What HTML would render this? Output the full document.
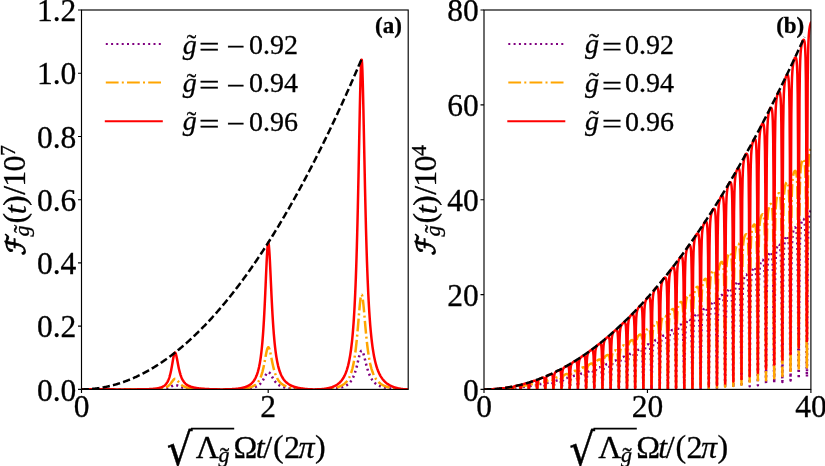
<!DOCTYPE html>
<html><head><meta charset="utf-8"><title>figure</title>
<style>html,body{margin:0;padding:0;background:#fff;width:825px;height:466px;overflow:hidden}svg{display:block}text{stroke:#000;stroke-width:0.3px}</style>
</head><body>
<svg width="825" height="466" viewBox="0 0 825 466">
<rect width="825" height="466" fill="#fff"/>
<defs><clipPath id="ca"><rect x="81.5" y="10.0" width="326.7" height="379.4"/></clipPath><clipPath id="cb"><rect x="484.0" y="10.0" width="326.9" height="379.4"/></clipPath></defs>
<g clip-path="url(#ca)" fill="none" stroke-width="2.5" stroke-linejoin="round">
<polyline stroke="#800080" stroke-dasharray="2 3.3" points="81.50,389.40 81.83,389.40 82.15,389.40 82.48,389.40 82.81,389.40 83.14,389.40 83.46,389.40 83.79,389.40 84.12,389.40 84.44,389.40 84.77,389.40 85.10,389.40 85.42,389.39 85.75,389.39 86.08,389.39 86.41,389.39 86.73,389.39 87.06,389.39 87.39,389.39 87.71,389.39 88.04,389.39 88.37,389.39 88.69,389.39 89.02,389.39 89.35,389.39 89.68,389.39 90.00,389.39 90.33,389.39 90.66,389.39 90.98,389.39 91.31,389.39 91.64,389.39 91.96,389.39 92.29,389.39 92.62,389.39 92.95,389.39 93.27,389.39 93.60,389.39 93.93,389.39 94.25,389.39 94.58,389.39 94.91,389.39 95.24,389.39 95.56,389.39 95.89,389.39 96.22,389.39 96.54,389.39 96.87,389.39 97.20,389.39 97.52,389.39 97.85,389.39 98.18,389.39 98.51,389.39 98.83,389.39 99.16,389.39 99.49,389.39 99.81,389.39 100.14,389.39 100.47,389.39 100.79,389.39 101.12,389.39 101.45,389.39 101.78,389.39 102.10,389.39 102.43,389.39 102.76,389.39 103.08,389.39 103.41,389.39 103.74,389.39 104.06,389.39 104.39,389.39 104.72,389.39 105.05,389.39 105.37,389.39 105.70,389.39 106.03,389.39 106.35,389.39 106.68,389.39 107.01,389.39 107.34,389.39 107.66,389.39 107.99,389.39 108.32,389.39 108.64,389.39 108.97,389.39 109.30,389.39 109.62,389.39 109.95,389.39 110.28,389.39 110.61,389.39 110.93,389.39 111.26,389.39 111.59,389.39 111.91,389.39 112.24,389.39 112.57,389.39 112.89,389.39 113.22,389.39 113.55,389.39 113.88,389.39 114.20,389.39 114.53,389.39 114.86,389.39 115.18,389.39 115.51,389.40 115.84,389.40 116.16,389.40 116.49,389.40 116.82,389.40 117.15,389.40 117.47,389.40 117.80,389.40 118.13,389.40 118.45,389.40 118.78,389.40 119.11,389.40 119.44,389.40 119.76,389.40 120.09,389.40 120.42,389.40 120.74,389.40 121.07,389.40 121.40,389.40 121.72,389.40 122.05,389.40 122.38,389.40 122.71,389.40 123.03,389.40 123.36,389.40 123.69,389.40 124.01,389.40 124.34,389.40 124.67,389.40 124.99,389.40 125.32,389.40 125.65,389.40 125.98,389.40 126.30,389.40 126.63,389.40 126.96,389.40 127.28,389.40 127.61,389.40 127.94,389.40 128.26,389.40 128.59,389.40 128.92,389.40 129.25,389.40 129.57,389.40 129.90,389.40 130.23,389.40 130.55,389.40 130.88,389.40 131.21,389.40 131.54,389.40 131.86,389.40 132.19,389.40 132.52,389.40 132.84,389.40 133.17,389.40 133.50,389.40 133.82,389.40 134.15,389.40 134.48,389.40 134.81,389.40 135.13,389.40 135.46,389.40 135.79,389.40 136.11,389.40 136.44,389.39 136.77,389.39 137.09,389.39 137.42,389.39 137.75,389.39 138.08,389.39 138.40,389.39 138.73,389.39 139.06,389.39 139.38,389.39 139.71,389.39 140.04,389.39 140.36,389.39 140.69,389.39 141.02,389.38 141.35,389.38 141.67,389.38 142.00,389.38 142.33,389.38 142.65,389.38 142.98,389.38 143.31,389.38 143.64,389.37 143.96,389.37 144.29,389.37 144.62,389.37 144.94,389.37 145.27,389.37 145.60,389.36 145.92,389.36 146.25,389.36 146.58,389.36 146.91,389.35 147.23,389.35 147.56,389.35 147.89,389.35 148.21,389.34 148.54,389.34 148.87,389.34 149.19,389.33 149.52,389.33 149.85,389.33 150.18,389.32 150.50,389.32 150.83,389.31 151.16,389.31 151.48,389.30 151.81,389.30 152.14,389.29 152.46,389.29 152.79,389.28 153.12,389.28 153.45,389.27 153.77,389.26 154.10,389.25 154.43,389.25 154.75,389.24 155.08,389.23 155.41,389.22 155.74,389.21 156.06,389.20 156.39,389.19 156.72,389.18 157.04,389.17 157.37,389.16 157.70,389.14 158.02,389.13 158.35,389.12 158.68,389.10 159.01,389.08 159.33,389.07 159.66,389.05 159.99,389.03 160.31,389.01 160.64,388.98 160.97,388.96 161.29,388.94 161.62,388.91 161.95,388.88 162.28,388.85 162.60,388.82 162.93,388.78 163.26,388.75 163.58,388.71 163.91,388.67 164.24,388.62 164.56,388.57 164.89,388.52 165.22,388.47 165.55,388.41 165.87,388.34 166.20,388.28 166.53,388.20 166.85,388.13 167.18,388.04 167.51,387.95 167.84,387.86 168.16,387.76 168.49,387.65 168.82,387.53 169.14,387.41 169.47,387.28 169.80,387.14 170.12,387.00 170.45,386.85 170.78,386.70 171.11,386.54 171.43,386.37 171.76,386.21 172.09,386.05 172.41,385.89 172.74,385.73 173.07,385.59 173.39,385.46 173.72,385.34 174.05,385.25 174.38,385.17 174.70,385.12 175.03,385.09 175.36,385.08 175.68,385.11 176.01,385.15 176.34,385.22 176.66,385.30 176.99,385.40 177.32,385.52 177.65,385.65 177.97,385.78 178.30,385.92 178.63,386.06 178.95,386.20 179.28,386.34 179.61,386.48 179.94,386.62 180.26,386.75 180.59,386.88 180.92,387.00 181.24,387.12 181.57,387.23 181.90,387.33 182.22,387.43 182.55,387.53 182.88,387.62 183.21,387.70 183.53,387.78 183.86,387.86 184.19,387.93 184.51,388.00 184.84,388.06 185.17,388.12 185.49,388.18 185.82,388.23 186.15,388.28 186.48,388.33 186.80,388.38 187.13,388.42 187.46,388.46 187.78,388.50 188.11,388.54 188.44,388.57 188.76,388.61 189.09,388.64 189.42,388.67 189.75,388.70 190.07,388.72 190.40,388.75 190.73,388.77 191.05,388.80 191.38,388.82 191.71,388.84 192.04,388.86 192.36,388.88 192.69,388.90 193.02,388.92 193.34,388.94 193.67,388.96 194.00,388.97 194.32,388.99 194.65,389.00 194.98,389.02 195.31,389.03 195.63,389.04 195.96,389.06 196.29,389.07 196.61,389.08 196.94,389.09 197.27,389.10 197.59,389.11 197.92,389.12 198.25,389.13 198.58,389.14 198.90,389.15 199.23,389.16 199.56,389.17 199.88,389.18 200.21,389.19 200.54,389.19 200.86,389.20 201.19,389.21 201.52,389.22 201.85,389.22 202.17,389.23 202.50,389.24 202.83,389.24 203.15,389.25 203.48,389.26 203.81,389.26 204.14,389.27 204.46,389.27 204.79,389.28 205.12,389.28 205.44,389.29 205.77,389.29 206.10,389.30 206.42,389.30 206.75,389.31 207.08,389.31 207.41,389.31 207.73,389.32 208.06,389.32 208.39,389.33 208.71,389.33 209.04,389.33 209.37,389.34 209.69,389.34 210.02,389.34 210.35,389.35 210.68,389.35 211.00,389.35 211.33,389.36 211.66,389.36 211.98,389.36 212.31,389.36 212.64,389.37 212.96,389.37 213.29,389.37 213.62,389.37 213.95,389.38 214.27,389.38 214.60,389.38 214.93,389.38 215.25,389.38 215.58,389.38 215.91,389.39 216.24,389.39 216.56,389.39 216.89,389.39 217.22,389.39 217.54,389.39 217.87,389.39 218.20,389.40 218.52,389.40 218.85,389.40 219.18,389.40 219.51,389.40 219.83,389.40 220.16,389.40 220.49,389.40 220.81,389.40 221.14,389.40 221.47,389.40 221.79,389.40 222.12,389.40 222.45,389.40 222.78,389.40 223.10,389.40 223.43,389.40 223.76,389.40 224.08,389.40 224.41,389.40 224.74,389.39 225.06,389.39 225.39,389.39 225.72,389.39 226.05,389.39 226.37,389.39 226.70,389.39 227.03,389.38 227.35,389.38 227.68,389.38 228.01,389.38 228.34,389.38 228.66,389.37 228.99,389.37 229.32,389.37 229.64,389.36 229.97,389.36 230.30,389.36 230.62,389.35 230.95,389.35 231.28,389.35 231.61,389.34 231.93,389.34 232.26,389.33 232.59,389.33 232.91,389.32 233.24,389.32 233.57,389.31 233.89,389.31 234.22,389.30 234.55,389.29 234.88,389.29 235.20,389.28 235.53,389.27 235.86,389.27 236.18,389.26 236.51,389.25 236.84,389.24 237.16,389.23 237.49,389.22 237.82,389.22 238.15,389.21 238.47,389.19 238.80,389.18 239.13,389.17 239.45,389.16 239.78,389.15 240.11,389.14 240.44,389.12 240.76,389.11 241.09,389.09 241.42,389.08 241.74,389.06 242.07,389.05 242.40,389.03 242.72,389.01 243.05,388.99 243.38,388.97 243.71,388.95 244.03,388.93 244.36,388.91 244.69,388.89 245.01,388.86 245.34,388.84 245.67,388.81 245.99,388.78 246.32,388.75 246.65,388.72 246.98,388.69 247.30,388.66 247.63,388.62 247.96,388.58 248.28,388.55 248.61,388.50 248.94,388.46 249.26,388.42 249.59,388.37 249.92,388.32 250.25,388.27 250.57,388.21 250.90,388.16 251.23,388.10 251.55,388.03 251.88,387.96 252.21,387.89 252.54,387.82 252.86,387.74 253.19,387.65 253.52,387.56 253.84,387.47 254.17,387.37 254.50,387.26 254.82,387.15 255.15,387.03 255.48,386.91 255.81,386.77 256.13,386.63 256.46,386.48 256.79,386.31 257.11,386.14 257.44,385.96 257.77,385.76 258.09,385.55 258.42,385.33 258.75,385.09 259.08,384.83 259.40,384.56 259.73,384.27 260.06,383.96 260.38,383.63 260.71,383.27 261.04,382.89 261.36,382.49 261.69,382.06 262.02,381.61 262.35,381.13 262.67,380.63 263.00,380.09 263.33,379.53 263.65,378.95 263.98,378.35 264.31,377.73 264.64,377.11 264.96,376.47 265.29,375.85 265.62,375.23 265.94,374.64 266.27,374.09 266.60,373.58 266.92,373.14 267.25,372.77 267.58,372.49 267.91,372.29 268.23,372.20 268.56,372.20 268.89,372.30 269.21,372.50 269.54,372.78 269.87,373.15 270.19,373.57 270.52,374.06 270.85,374.58 271.18,375.14 271.50,375.72 271.83,376.30 272.16,376.89 272.48,377.48 272.81,378.05 273.14,378.61 273.46,379.15 273.79,379.67 274.12,380.17 274.45,380.64 274.77,381.10 275.10,381.52 275.43,381.93 275.75,382.31 276.08,382.68 276.41,383.02 276.74,383.34 277.06,383.64 277.39,383.93 277.72,384.19 278.04,384.45 278.37,384.69 278.70,384.91 279.02,385.12 279.35,385.32 279.68,385.51 280.01,385.69 280.33,385.86 280.66,386.02 280.99,386.17 281.31,386.31 281.64,386.44 281.97,386.57 282.29,386.69 282.62,386.81 282.95,386.91 283.28,387.02 283.60,387.12 283.93,387.21 284.26,387.30 284.58,387.39 284.91,387.47 285.24,387.54 285.56,387.62 285.89,387.69 286.22,387.76 286.55,387.82 286.87,387.88 287.20,387.94 287.53,388.00 287.85,388.05 288.18,388.10 288.51,388.15 288.84,388.20 289.16,388.25 289.49,388.29 289.82,388.33 290.14,388.37 290.47,388.41 290.80,388.45 291.12,388.49 291.45,388.52 291.78,388.56 292.11,388.59 292.43,388.62 292.76,388.65 293.09,388.68 293.41,388.71 293.74,388.73 294.07,388.76 294.39,388.79 294.72,388.81 295.05,388.83 295.38,388.86 295.70,388.88 296.03,388.90 296.36,388.92 296.68,388.94 297.01,388.96 297.34,388.98 297.66,389.00 297.99,389.01 298.32,389.03 298.65,389.05 298.97,389.06 299.30,389.08 299.63,389.09 299.95,389.11 300.28,389.12 300.61,389.14 300.94,389.15 301.26,389.16 301.59,389.17 301.92,389.19 302.24,389.20 302.57,389.21 302.90,389.22 303.22,389.23 303.55,389.24 303.88,389.25 304.21,389.26 304.53,389.27 304.86,389.28 305.19,389.28 305.51,389.29 305.84,389.30 306.17,389.31 306.49,389.31 306.82,389.32 307.15,389.33 307.48,389.33 307.80,389.34 308.13,389.34 308.46,389.35 308.78,389.35 309.11,389.36 309.44,389.36 309.76,389.37 310.09,389.37 310.42,389.38 310.75,389.38 311.07,389.38 311.40,389.39 311.73,389.39 312.05,389.39 312.38,389.39 312.71,389.39 313.04,389.40 313.36,389.40 313.69,389.40 314.02,389.40 314.34,389.40 314.67,389.40 315.00,389.40 315.32,389.40 315.65,389.40 315.98,389.40 316.31,389.40 316.63,389.40 316.96,389.39 317.29,389.39 317.61,389.39 317.94,389.39 318.27,389.38 318.59,389.38 318.92,389.38 319.25,389.37 319.58,389.37 319.90,389.37 320.23,389.36 320.56,389.36 320.88,389.35 321.21,389.34 321.54,389.34 321.86,389.33 322.19,389.32 322.52,389.32 322.85,389.31 323.17,389.30 323.50,389.29 323.83,389.28 324.15,389.27 324.48,389.26 324.81,389.25 325.14,389.24 325.46,389.23 325.79,389.22 326.12,389.21 326.44,389.19 326.77,389.18 327.10,389.17 327.42,389.15 327.75,389.13 328.08,389.12 328.41,389.10 328.73,389.08 329.06,389.07 329.39,389.05 329.71,389.03 330.04,389.01 330.37,388.98 330.69,388.96 331.02,388.94 331.35,388.91 331.68,388.89 332.00,388.86 332.33,388.84 332.66,388.81 332.98,388.78 333.31,388.75 333.64,388.71 333.96,388.68 334.29,388.65 334.62,388.61 334.95,388.57 335.27,388.53 335.60,388.49 335.93,388.45 336.25,388.41 336.58,388.36 336.91,388.31 337.24,388.26 337.56,388.21 337.89,388.15 338.22,388.10 338.54,388.04 338.87,387.97 339.20,387.91 339.52,387.84 339.85,387.77 340.18,387.69 340.51,387.62 340.83,387.53 341.16,387.45 341.49,387.36 341.81,387.27 342.14,387.17 342.47,387.06 342.79,386.96 343.12,386.84 343.45,386.72 343.78,386.60 344.10,386.47 344.43,386.33 344.76,386.18 345.08,386.03 345.41,385.86 345.74,385.69 346.06,385.51 346.39,385.32 346.72,385.12 347.05,384.91 347.37,384.68 347.70,384.44 348.03,384.19 348.35,383.92 348.68,383.64 349.01,383.34 349.34,383.02 349.66,382.67 349.99,382.31 350.32,381.93 350.64,381.52 350.97,381.08 351.30,380.61 351.62,380.12 351.95,379.59 352.28,379.02 352.61,378.42 352.93,377.77 353.26,377.09 353.59,376.36 353.91,375.57 354.24,374.74 354.57,373.86 354.89,372.92 355.22,371.92 355.55,370.86 355.88,369.75 356.20,368.58 356.53,367.35 356.86,366.07 357.18,364.74 357.51,363.38 357.84,361.98 358.16,360.58 358.49,359.18 358.82,357.80 359.15,356.47 359.47,355.22 359.80,354.06 360.13,353.04 360.45,352.18 360.78,351.49 361.11,351.01 361.44,350.75 361.76,350.70 362.09,350.89 362.42,351.28 362.74,351.88 363.07,352.66 363.40,353.60 363.72,354.67 364.05,355.85 364.38,357.10 364.71,358.40 365.03,359.73 365.36,361.07 365.69,362.41 366.01,363.72 366.34,365.00 366.67,366.24 366.99,367.44 367.32,368.58 367.65,369.67 367.98,370.71 368.30,371.69 368.63,372.63 368.96,373.51 369.28,374.33 369.61,375.12 369.94,375.85 370.26,376.55 370.59,377.20 370.92,377.81 371.25,378.39 371.57,378.93 371.90,379.44 372.23,379.93 372.55,380.38 372.88,380.81 373.21,381.21 373.54,381.59 373.86,381.95 374.19,382.29 374.52,382.61 374.84,382.92 375.17,383.20 375.50,383.47 375.82,383.73 376.15,383.98 376.48,384.21 376.81,384.43 377.13,384.64 377.46,384.84 377.79,385.03 378.11,385.21 378.44,385.38 378.77,385.55 379.09,385.70 379.42,385.85 379.75,385.99 380.08,386.13 380.40,386.26 380.73,386.39 381.06,386.50 381.38,386.62 381.71,386.73 382.04,386.83 382.36,386.93 382.69,387.03 383.02,387.12 383.35,387.21 383.67,387.30 384.00,387.38 384.33,387.46 384.65,387.54 384.98,387.61 385.31,387.68 385.64,387.75 385.96,387.81 386.29,387.88 386.62,387.94 386.94,388.00 387.27,388.05 387.60,388.11 387.92,388.16 388.25,388.21 388.58,388.26 388.91,388.31 389.23,388.35 389.56,388.40 389.89,388.44 390.21,388.48 390.54,388.52 390.87,388.56 391.19,388.60 391.52,388.63 391.85,388.67 392.18,388.70 392.50,388.73 392.83,388.76 393.16,388.79 393.48,388.82 393.81,388.85 394.14,388.88 394.46,388.91 394.79,388.93 395.12,388.96 395.45,388.98 395.77,389.00 396.10,389.02 396.43,389.05 396.75,389.07 397.08,389.09 397.41,389.11 397.74,389.12 398.06,389.14 398.39,389.16 398.72,389.18 399.04,389.19 399.37,389.21 399.70,389.22 400.02,389.23 400.35,389.25 400.68,389.26 401.01,389.27 401.33,389.28 401.66,389.29 401.99,389.31 402.31,389.31 402.64,389.32 402.97,389.33 403.29,389.34 403.62,389.35 403.95,389.36 404.28,389.36 404.60,389.37 404.93,389.37 405.26,389.38 405.58,389.38 405.91,389.39 406.24,389.39 406.56,389.39 406.89,389.40 407.22,389.40 407.55,389.40 407.87,389.40 408.20,389.40"/>
<polyline stroke="#ffa500" stroke-dasharray="12.8 3.2 2 3.2" points="81.50,389.40 81.83,389.40 82.15,389.40 82.48,389.40 82.81,389.40 83.14,389.40 83.46,389.40 83.79,389.39 84.12,389.39 84.44,389.39 84.77,389.39 85.10,389.39 85.42,389.39 85.75,389.39 86.08,389.39 86.41,389.38 86.73,389.38 87.06,389.38 87.39,389.38 87.71,389.38 88.04,389.38 88.37,389.38 88.69,389.38 89.02,389.38 89.35,389.38 89.68,389.38 90.00,389.38 90.33,389.38 90.66,389.38 90.98,389.38 91.31,389.38 91.64,389.38 91.96,389.38 92.29,389.38 92.62,389.38 92.95,389.37 93.27,389.37 93.60,389.37 93.93,389.37 94.25,389.37 94.58,389.37 94.91,389.37 95.24,389.37 95.56,389.37 95.89,389.37 96.22,389.37 96.54,389.38 96.87,389.38 97.20,389.38 97.52,389.38 97.85,389.38 98.18,389.38 98.51,389.38 98.83,389.38 99.16,389.38 99.49,389.38 99.81,389.38 100.14,389.38 100.47,389.38 100.79,389.38 101.12,389.38 101.45,389.38 101.78,389.38 102.10,389.38 102.43,389.38 102.76,389.38 103.08,389.38 103.41,389.38 103.74,389.38 104.06,389.38 104.39,389.38 104.72,389.38 105.05,389.38 105.37,389.38 105.70,389.38 106.03,389.38 106.35,389.38 106.68,389.38 107.01,389.38 107.34,389.38 107.66,389.38 107.99,389.38 108.32,389.38 108.64,389.38 108.97,389.38 109.30,389.38 109.62,389.38 109.95,389.39 110.28,389.39 110.61,389.39 110.93,389.39 111.26,389.39 111.59,389.39 111.91,389.39 112.24,389.39 112.57,389.39 112.89,389.39 113.22,389.39 113.55,389.39 113.88,389.39 114.20,389.39 114.53,389.39 114.86,389.39 115.18,389.39 115.51,389.39 115.84,389.39 116.16,389.39 116.49,389.39 116.82,389.39 117.15,389.39 117.47,389.39 117.80,389.39 118.13,389.39 118.45,389.39 118.78,389.39 119.11,389.39 119.44,389.40 119.76,389.40 120.09,389.40 120.42,389.40 120.74,389.40 121.07,389.40 121.40,389.40 121.72,389.40 122.05,389.40 122.38,389.40 122.71,389.40 123.03,389.40 123.36,389.40 123.69,389.40 124.01,389.40 124.34,389.40 124.67,389.40 124.99,389.40 125.32,389.40 125.65,389.40 125.98,389.40 126.30,389.40 126.63,389.40 126.96,389.40 127.28,389.40 127.61,389.40 127.94,389.40 128.26,389.40 128.59,389.40 128.92,389.40 129.25,389.40 129.57,389.40 129.90,389.40 130.23,389.40 130.55,389.40 130.88,389.40 131.21,389.40 131.54,389.40 131.86,389.40 132.19,389.40 132.52,389.40 132.84,389.40 133.17,389.40 133.50,389.40 133.82,389.40 134.15,389.40 134.48,389.40 134.81,389.39 135.13,389.39 135.46,389.39 135.79,389.39 136.11,389.39 136.44,389.39 136.77,389.39 137.09,389.39 137.42,389.39 137.75,389.39 138.08,389.39 138.40,389.38 138.73,389.38 139.06,389.38 139.38,389.38 139.71,389.38 140.04,389.38 140.36,389.38 140.69,389.37 141.02,389.37 141.35,389.37 141.67,389.37 142.00,389.37 142.33,389.36 142.65,389.36 142.98,389.36 143.31,389.36 143.64,389.35 143.96,389.35 144.29,389.35 144.62,389.34 144.94,389.34 145.27,389.34 145.60,389.33 145.92,389.33 146.25,389.33 146.58,389.32 146.91,389.32 147.23,389.31 147.56,389.31 147.89,389.30 148.21,389.30 148.54,389.29 148.87,389.28 149.19,389.28 149.52,389.27 149.85,389.26 150.18,389.26 150.50,389.25 150.83,389.24 151.16,389.23 151.48,389.22 151.81,389.21 152.14,389.20 152.46,389.19 152.79,389.18 153.12,389.17 153.45,389.16 153.77,389.15 154.10,389.13 154.43,389.12 154.75,389.10 155.08,389.09 155.41,389.07 155.74,389.05 156.06,389.03 156.39,389.01 156.72,388.99 157.04,388.97 157.37,388.95 157.70,388.92 158.02,388.90 158.35,388.87 158.68,388.84 159.01,388.81 159.33,388.77 159.66,388.74 159.99,388.70 160.31,388.66 160.64,388.62 160.97,388.57 161.29,388.52 161.62,388.47 161.95,388.42 162.28,388.36 162.60,388.29 162.93,388.22 163.26,388.15 163.58,388.07 163.91,387.99 164.24,387.90 164.56,387.80 164.89,387.69 165.22,387.58 165.55,387.45 165.87,387.32 166.20,387.18 166.53,387.02 166.85,386.85 167.18,386.67 167.51,386.47 167.84,386.26 168.16,386.03 168.49,385.78 168.82,385.51 169.14,385.22 169.47,384.91 169.80,384.57 170.12,384.21 170.45,383.83 170.78,383.43 171.11,383.00 171.43,382.56 171.76,382.11 172.09,381.65 172.41,381.19 172.74,380.75 173.07,380.32 173.39,379.93 173.72,379.58 174.05,379.28 174.38,379.06 174.70,378.91 175.03,378.84 175.36,378.86 175.68,378.95 176.01,379.12 176.34,379.36 176.66,379.65 176.99,379.98 177.32,380.35 177.65,380.74 177.97,381.14 178.30,381.55 178.63,381.95 178.95,382.35 179.28,382.73 179.61,383.10 179.94,383.45 180.26,383.79 180.59,384.10 180.92,384.40 181.24,384.68 181.57,384.94 181.90,385.19 182.22,385.42 182.55,385.64 182.88,385.84 183.21,386.02 183.53,386.20 183.86,386.36 184.19,386.52 184.51,386.66 184.84,386.80 185.17,386.92 185.49,387.04 185.82,387.15 186.15,387.26 186.48,387.35 186.80,387.45 187.13,387.53 187.46,387.62 187.78,387.69 188.11,387.77 188.44,387.84 188.76,387.90 189.09,387.96 189.42,388.02 189.75,388.08 190.07,388.13 190.40,388.18 190.73,388.23 191.05,388.28 191.38,388.32 191.71,388.36 192.04,388.40 192.36,388.44 192.69,388.48 193.02,388.51 193.34,388.54 193.67,388.58 194.00,388.61 194.32,388.64 194.65,388.66 194.98,388.69 195.31,388.72 195.63,388.74 195.96,388.77 196.29,388.79 196.61,388.81 196.94,388.83 197.27,388.85 197.59,388.87 197.92,388.89 198.25,388.91 198.58,388.93 198.90,388.95 199.23,388.96 199.56,388.98 199.88,388.99 200.21,389.01 200.54,389.02 200.86,389.04 201.19,389.05 201.52,389.06 201.85,389.08 202.17,389.09 202.50,389.10 202.83,389.11 203.15,389.12 203.48,389.14 203.81,389.15 204.14,389.16 204.46,389.17 204.79,389.18 205.12,389.19 205.44,389.20 205.77,389.20 206.10,389.21 206.42,389.22 206.75,389.23 207.08,389.24 207.41,389.24 207.73,389.25 208.06,389.26 208.39,389.27 208.71,389.27 209.04,389.28 209.37,389.29 209.69,389.29 210.02,389.30 210.35,389.30 210.68,389.31 211.00,389.31 211.33,389.32 211.66,389.33 211.98,389.33 212.31,389.33 212.64,389.34 212.96,389.34 213.29,389.35 213.62,389.35 213.95,389.36 214.27,389.36 214.60,389.36 214.93,389.37 215.25,389.37 215.58,389.37 215.91,389.38 216.24,389.38 216.56,389.38 216.89,389.38 217.22,389.39 217.54,389.39 217.87,389.39 218.20,389.39 218.52,389.39 218.85,389.39 219.18,389.40 219.51,389.40 219.83,389.40 220.16,389.40 220.49,389.40 220.81,389.40 221.14,389.40 221.47,389.40 221.79,389.40 222.12,389.40 222.45,389.40 222.78,389.40 223.10,389.40 223.43,389.40 223.76,389.40 224.08,389.39 224.41,389.39 224.74,389.39 225.06,389.39 225.39,389.39 225.72,389.38 226.05,389.38 226.37,389.38 226.70,389.38 227.03,389.37 227.35,389.37 227.68,389.36 228.01,389.36 228.34,389.36 228.66,389.35 228.99,389.35 229.32,389.34 229.64,389.34 229.97,389.33 230.30,389.32 230.62,389.32 230.95,389.31 231.28,389.30 231.61,389.30 231.93,389.29 232.26,389.28 232.59,389.27 232.91,389.26 233.24,389.25 233.57,389.24 233.89,389.23 234.22,389.22 234.55,389.21 234.88,389.20 235.20,389.18 235.53,389.17 235.86,389.16 236.18,389.14 236.51,389.13 236.84,389.11 237.16,389.10 237.49,389.08 237.82,389.06 238.15,389.04 238.47,389.03 238.80,389.01 239.13,388.98 239.45,388.96 239.78,388.94 240.11,388.92 240.44,388.89 240.76,388.87 241.09,388.84 241.42,388.81 241.74,388.78 242.07,388.75 242.40,388.72 242.72,388.69 243.05,388.65 243.38,388.62 243.71,388.58 244.03,388.54 244.36,388.50 244.69,388.46 245.01,388.41 245.34,388.36 245.67,388.31 245.99,388.26 246.32,388.21 246.65,388.15 246.98,388.09 247.30,388.03 247.63,387.96 247.96,387.89 248.28,387.82 248.61,387.74 248.94,387.66 249.26,387.58 249.59,387.49 249.92,387.40 250.25,387.30 250.57,387.20 250.90,387.09 251.23,386.97 251.55,386.85 251.88,386.72 252.21,386.58 252.54,386.44 252.86,386.29 253.19,386.12 253.52,385.95 253.84,385.77 254.17,385.57 254.50,385.37 254.82,385.15 255.15,384.91 255.48,384.66 255.81,384.39 256.13,384.11 256.46,383.80 256.79,383.48 257.11,383.13 257.44,382.75 257.77,382.35 258.09,381.92 258.42,381.45 258.75,380.95 259.08,380.42 259.40,379.84 259.73,379.21 260.06,378.54 260.38,377.81 260.71,377.03 261.04,376.18 261.36,375.27 261.69,374.28 262.02,373.22 262.35,372.08 262.67,370.86 263.00,369.55 263.33,368.15 263.65,366.67 263.98,365.11 264.31,363.47 264.64,361.76 264.96,360.01 265.29,358.23 265.62,356.45 265.94,354.71 266.27,353.05 266.60,351.51 266.92,350.15 267.25,349.00 267.58,348.12 267.91,347.54 268.23,347.27 268.56,347.34 268.89,347.72 269.21,348.41 269.54,349.37 269.87,350.56 270.19,351.93 270.52,353.44 270.85,355.05 271.18,356.71 271.50,358.38 271.83,360.05 272.16,361.68 272.48,363.26 272.81,364.78 273.14,366.23 273.46,367.60 273.79,368.90 274.12,370.11 274.45,371.25 274.77,372.32 275.10,373.32 275.43,374.25 275.75,375.12 276.08,375.93 276.41,376.68 276.74,377.38 277.06,378.04 277.39,378.65 277.72,379.22 278.04,379.75 278.37,380.25 278.70,380.72 279.02,381.15 279.35,381.56 279.68,381.94 280.01,382.30 280.33,382.64 280.66,382.96 280.99,383.26 281.31,383.54 281.64,383.81 281.97,384.06 282.29,384.30 282.62,384.52 282.95,384.73 283.28,384.93 283.60,385.13 283.93,385.31 284.26,385.48 284.58,385.64 284.91,385.80 285.24,385.94 285.56,386.09 285.89,386.22 286.22,386.35 286.55,386.47 286.87,386.59 287.20,386.70 287.53,386.80 287.85,386.91 288.18,387.00 288.51,387.10 288.84,387.19 289.16,387.27 289.49,387.36 289.82,387.44 290.14,387.51 290.47,387.58 290.80,387.65 291.12,387.72 291.45,387.79 291.78,387.85 292.11,387.91 292.43,387.97 292.76,388.02 293.09,388.08 293.41,388.13 293.74,388.18 294.07,388.23 294.39,388.28 294.72,388.32 295.05,388.36 295.38,388.41 295.70,388.45 296.03,388.49 296.36,388.52 296.68,388.56 297.01,388.60 297.34,388.63 297.66,388.66 297.99,388.70 298.32,388.73 298.65,388.76 298.97,388.79 299.30,388.82 299.63,388.84 299.95,388.87 300.28,388.89 300.61,388.92 300.94,388.94 301.26,388.97 301.59,388.99 301.92,389.01 302.24,389.03 302.57,389.05 302.90,389.07 303.22,389.09 303.55,389.11 303.88,389.12 304.21,389.14 304.53,389.16 304.86,389.17 305.19,389.19 305.51,389.20 305.84,389.22 306.17,389.23 306.49,389.24 306.82,389.25 307.15,389.27 307.48,389.28 307.80,389.29 308.13,389.30 308.46,389.31 308.78,389.32 309.11,389.33 309.44,389.33 309.76,389.34 310.09,389.35 310.42,389.36 310.75,389.36 311.07,389.37 311.40,389.37 311.73,389.38 312.05,389.38 312.38,389.39 312.71,389.39 313.04,389.39 313.36,389.39 313.69,389.40 314.02,389.40 314.34,389.40 314.67,389.40 315.00,389.40 315.32,389.40 315.65,389.40 315.98,389.40 316.31,389.40 316.63,389.39 316.96,389.39 317.29,389.39 317.61,389.38 317.94,389.38 318.27,389.37 318.59,389.37 318.92,389.36 319.25,389.35 319.58,389.35 319.90,389.34 320.23,389.33 320.56,389.32 320.88,389.31 321.21,389.30 321.54,389.29 321.86,389.28 322.19,389.26 322.52,389.25 322.85,389.24 323.17,389.22 323.50,389.20 323.83,389.19 324.15,389.17 324.48,389.15 324.81,389.13 325.14,389.11 325.46,389.09 325.79,389.07 326.12,389.05 326.44,389.02 326.77,389.00 327.10,388.97 327.42,388.94 327.75,388.92 328.08,388.89 328.41,388.86 328.73,388.82 329.06,388.79 329.39,388.76 329.71,388.72 330.04,388.68 330.37,388.64 330.69,388.60 331.02,388.56 331.35,388.51 331.68,388.47 332.00,388.42 332.33,388.37 332.66,388.32 332.98,388.26 333.31,388.21 333.64,388.15 333.96,388.09 334.29,388.02 334.62,387.95 334.95,387.89 335.27,387.81 335.60,387.74 335.93,387.66 336.25,387.58 336.58,387.49 336.91,387.40 337.24,387.31 337.56,387.21 337.89,387.11 338.22,387.00 338.54,386.89 338.87,386.78 339.20,386.66 339.52,386.53 339.85,386.40 340.18,386.26 340.51,386.11 340.83,385.96 341.16,385.80 341.49,385.63 341.81,385.46 342.14,385.27 342.47,385.08 342.79,384.87 343.12,384.66 343.45,384.43 343.78,384.20 344.10,383.95 344.43,383.68 344.76,383.40 345.08,383.11 345.41,382.80 345.74,382.47 346.06,382.12 346.39,381.76 346.72,381.37 347.05,380.95 347.37,380.51 347.70,380.05 348.03,379.55 348.35,379.03 348.68,378.46 349.01,377.87 349.34,377.23 349.66,376.55 349.99,375.82 350.32,375.04 350.64,374.20 350.97,373.31 351.30,372.35 351.62,371.32 351.95,370.21 352.28,369.03 352.61,367.74 352.93,366.37 353.26,364.88 353.59,363.28 353.91,361.56 354.24,359.70 354.57,357.69 354.89,355.54 355.22,353.21 355.55,350.72 355.88,348.04 356.20,345.17 356.53,342.11 356.86,338.86 357.18,335.42 357.51,331.81 357.84,328.05 358.16,324.17 358.49,320.22 358.82,316.25 359.15,312.35 359.47,308.58 359.80,305.07 360.13,301.90 360.45,299.19 360.78,297.05 361.11,295.54 361.44,294.74 361.76,294.68 362.09,295.35 362.42,296.72 362.74,298.73 363.07,301.29 363.40,304.30 363.72,307.65 364.05,311.24 364.38,314.98 364.71,318.79 365.03,322.59 365.36,326.32 365.69,329.95 366.01,333.45 366.34,336.78 366.67,339.95 366.99,342.93 367.32,345.74 367.65,348.37 367.98,350.84 368.30,353.14 368.63,355.28 368.96,357.28 369.28,359.14 369.61,360.87 369.94,362.48 370.26,363.99 370.59,365.39 370.92,366.69 371.25,367.91 371.57,369.05 371.90,370.11 372.23,371.11 372.55,372.04 372.88,372.91 373.21,373.73 373.54,374.49 373.86,375.21 374.19,375.89 374.52,376.53 374.84,377.13 375.17,377.69 375.50,378.23 375.82,378.73 376.15,379.21 376.48,379.66 376.81,380.09 377.13,380.49 377.46,380.88 377.79,381.24 378.11,381.59 378.44,381.92 378.77,382.23 379.09,382.53 379.42,382.81 379.75,383.08 380.08,383.34 380.40,383.59 380.73,383.82 381.06,384.05 381.38,384.26 381.71,384.47 382.04,384.67 382.36,384.85 382.69,385.03 383.02,385.21 383.35,385.37 383.67,385.53 384.00,385.69 384.33,385.83 384.65,385.98 384.98,386.11 385.31,386.24 385.64,386.37 385.96,386.49 386.29,386.61 386.62,386.72 386.94,386.83 387.27,386.93 387.60,387.03 387.92,387.13 388.25,387.22 388.58,387.31 388.91,387.40 389.23,387.48 389.56,387.57 389.89,387.64 390.21,387.72 390.54,387.79 390.87,387.86 391.19,387.93 391.52,388.00 391.85,388.06 392.18,388.12 392.50,388.18 392.83,388.24 393.16,388.29 393.48,388.35 393.81,388.40 394.14,388.45 394.46,388.50 394.79,388.54 395.12,388.59 395.45,388.63 395.77,388.68 396.10,388.72 396.43,388.75 396.75,388.79 397.08,388.83 397.41,388.86 397.74,388.90 398.06,388.93 398.39,388.96 398.72,388.99 399.04,389.02 399.37,389.05 399.70,389.07 400.02,389.10 400.35,389.12 400.68,389.15 401.01,389.17 401.33,389.19 401.66,389.21 401.99,389.23 402.31,389.25 402.64,389.26 402.97,389.28 403.29,389.29 403.62,389.31 403.95,389.32 404.28,389.33 404.60,389.34 404.93,389.35 405.26,389.36 405.58,389.37 405.91,389.38 406.24,389.38 406.56,389.39 406.89,389.39 407.22,389.40 407.55,389.40 407.87,389.40 408.20,389.40"/>
<polyline stroke="#ff0000" stroke-linecap="square" points="81.50,389.40 81.83,389.40 82.15,389.40 82.48,389.40 82.81,389.39 83.14,389.39 83.46,389.39 83.79,389.38 84.12,389.38 84.44,389.38 84.77,389.37 85.10,389.37 85.42,389.37 85.75,389.36 86.08,389.36 86.41,389.36 86.73,389.35 87.06,389.35 87.39,389.35 87.71,389.35 88.04,389.35 88.37,389.35 88.69,389.35 89.02,389.34 89.35,389.34 89.68,389.34 90.00,389.34 90.33,389.34 90.66,389.34 90.98,389.34 91.31,389.34 91.64,389.34 91.96,389.34 92.29,389.34 92.62,389.34 92.95,389.34 93.27,389.34 93.60,389.34 93.93,389.34 94.25,389.34 94.58,389.34 94.91,389.34 95.24,389.34 95.56,389.34 95.89,389.34 96.22,389.34 96.54,389.34 96.87,389.34 97.20,389.34 97.52,389.34 97.85,389.34 98.18,389.34 98.51,389.34 98.83,389.34 99.16,389.34 99.49,389.34 99.81,389.34 100.14,389.35 100.47,389.35 100.79,389.35 101.12,389.35 101.45,389.35 101.78,389.35 102.10,389.35 102.43,389.35 102.76,389.35 103.08,389.35 103.41,389.35 103.74,389.35 104.06,389.35 104.39,389.35 104.72,389.35 105.05,389.35 105.37,389.36 105.70,389.36 106.03,389.36 106.35,389.36 106.68,389.36 107.01,389.36 107.34,389.36 107.66,389.36 107.99,389.36 108.32,389.36 108.64,389.36 108.97,389.36 109.30,389.36 109.62,389.37 109.95,389.37 110.28,389.37 110.61,389.37 110.93,389.37 111.26,389.37 111.59,389.37 111.91,389.37 112.24,389.37 112.57,389.37 112.89,389.37 113.22,389.37 113.55,389.37 113.88,389.38 114.20,389.38 114.53,389.38 114.86,389.38 115.18,389.38 115.51,389.38 115.84,389.38 116.16,389.38 116.49,389.38 116.82,389.38 117.15,389.38 117.47,389.38 117.80,389.39 118.13,389.39 118.45,389.39 118.78,389.39 119.11,389.39 119.44,389.39 119.76,389.39 120.09,389.39 120.42,389.39 120.74,389.39 121.07,389.39 121.40,389.39 121.72,389.39 122.05,389.39 122.38,389.39 122.71,389.39 123.03,389.40 123.36,389.40 123.69,389.40 124.01,389.40 124.34,389.40 124.67,389.40 124.99,389.40 125.32,389.40 125.65,389.40 125.98,389.40 126.30,389.40 126.63,389.40 126.96,389.40 127.28,389.40 127.61,389.40 127.94,389.40 128.26,389.40 128.59,389.40 128.92,389.40 129.25,389.40 129.57,389.40 129.90,389.40 130.23,389.40 130.55,389.40 130.88,389.40 131.21,389.40 131.54,389.40 131.86,389.40 132.19,389.40 132.52,389.40 132.84,389.39 133.17,389.39 133.50,389.39 133.82,389.39 134.15,389.39 134.48,389.39 134.81,389.39 135.13,389.39 135.46,389.38 135.79,389.38 136.11,389.38 136.44,389.38 136.77,389.38 137.09,389.37 137.42,389.37 137.75,389.37 138.08,389.37 138.40,389.36 138.73,389.36 139.06,389.36 139.38,389.35 139.71,389.35 140.04,389.35 140.36,389.34 140.69,389.34 141.02,389.34 141.35,389.33 141.67,389.33 142.00,389.32 142.33,389.32 142.65,389.31 142.98,389.30 143.31,389.30 143.64,389.29 143.96,389.28 144.29,389.28 144.62,389.27 144.94,389.26 145.27,389.25 145.60,389.25 145.92,389.24 146.25,389.23 146.58,389.22 146.91,389.21 147.23,389.20 147.56,389.18 147.89,389.17 148.21,389.16 148.54,389.15 148.87,389.13 149.19,389.12 149.52,389.10 149.85,389.08 150.18,389.07 150.50,389.05 150.83,389.03 151.16,389.01 151.48,388.99 151.81,388.97 152.14,388.94 152.46,388.92 152.79,388.89 153.12,388.87 153.45,388.84 153.77,388.81 154.10,388.77 154.43,388.74 154.75,388.71 155.08,388.67 155.41,388.63 155.74,388.59 156.06,388.54 156.39,388.49 156.72,388.45 157.04,388.39 157.37,388.34 157.70,388.28 158.02,388.21 158.35,388.15 158.68,388.08 159.01,388.00 159.33,387.92 159.66,387.83 159.99,387.74 160.31,387.64 160.64,387.54 160.97,387.42 161.29,387.30 161.62,387.17 161.95,387.04 162.28,386.89 162.60,386.73 162.93,386.55 163.26,386.37 163.58,386.17 163.91,385.95 164.24,385.71 164.56,385.46 164.89,385.18 165.22,384.88 165.55,384.55 165.87,384.19 166.20,383.80 166.53,383.37 166.85,382.90 167.18,382.39 167.51,381.83 167.84,381.21 168.16,380.53 168.49,379.78 168.82,378.95 169.14,378.05 169.47,377.05 169.80,375.95 170.12,374.75 170.45,373.43 170.78,372.00 171.11,370.45 171.43,368.78 171.76,367.01 172.09,365.14 172.41,363.22 172.74,361.28 173.07,359.37 173.39,357.56 173.72,355.93 174.05,354.56 174.38,353.52 174.70,352.87 175.03,352.64 175.36,352.85 175.68,353.47 176.01,354.44 176.34,355.72 176.66,357.22 176.99,358.87 177.32,360.59 177.65,362.35 177.97,364.09 178.30,365.77 178.63,367.38 178.95,368.90 179.28,370.32 179.61,371.65 179.94,372.87 180.26,374.00 180.59,375.04 180.92,376.00 181.24,376.88 181.57,377.69 181.90,378.43 182.22,379.12 182.55,379.74 182.88,380.32 183.21,380.85 183.53,381.35 183.86,381.80 184.19,382.22 184.51,382.61 184.84,382.97 185.17,383.31 185.49,383.62 185.82,383.91 186.15,384.18 186.48,384.44 186.80,384.68 187.13,384.90 187.46,385.11 187.78,385.30 188.11,385.49 188.44,385.66 188.76,385.83 189.09,385.98 189.42,386.13 189.75,386.26 190.07,386.40 190.40,386.52 190.73,386.64 191.05,386.75 191.38,386.85 191.71,386.96 192.04,387.05 192.36,387.14 192.69,387.23 193.02,387.31 193.34,387.39 193.67,387.47 194.00,387.54 194.32,387.61 194.65,387.68 194.98,387.74 195.31,387.81 195.63,387.86 195.96,387.92 196.29,387.98 196.61,388.03 196.94,388.08 197.27,388.13 197.59,388.17 197.92,388.22 198.25,388.26 198.58,388.30 198.90,388.35 199.23,388.38 199.56,388.42 199.88,388.46 200.21,388.49 200.54,388.53 200.86,388.56 201.19,388.59 201.52,388.62 201.85,388.65 202.17,388.68 202.50,388.71 202.83,388.74 203.15,388.76 203.48,388.79 203.81,388.81 204.14,388.84 204.46,388.86 204.79,388.88 205.12,388.91 205.44,388.93 205.77,388.95 206.10,388.97 206.42,388.99 206.75,389.01 207.08,389.02 207.41,389.04 207.73,389.06 208.06,389.08 208.39,389.09 208.71,389.11 209.04,389.12 209.37,389.14 209.69,389.15 210.02,389.17 210.35,389.18 210.68,389.19 211.00,389.20 211.33,389.22 211.66,389.23 211.98,389.24 212.31,389.25 212.64,389.26 212.96,389.27 213.29,389.28 213.62,389.29 213.95,389.30 214.27,389.31 214.60,389.31 214.93,389.32 215.25,389.33 215.58,389.34 215.91,389.34 216.24,389.35 216.56,389.36 216.89,389.36 217.22,389.37 217.54,389.37 217.87,389.38 218.20,389.38 218.52,389.38 218.85,389.39 219.18,389.39 219.51,389.39 219.83,389.39 220.16,389.40 220.49,389.40 220.81,389.40 221.14,389.40 221.47,389.40 221.79,389.40 222.12,389.40 222.45,389.40 222.78,389.40 223.10,389.40 223.43,389.39 223.76,389.39 224.08,389.39 224.41,389.38 224.74,389.38 225.06,389.37 225.39,389.37 225.72,389.36 226.05,389.36 226.37,389.35 226.70,389.34 227.03,389.34 227.35,389.33 227.68,389.32 228.01,389.31 228.34,389.30 228.66,389.29 228.99,389.28 229.32,389.26 229.64,389.25 229.97,389.24 230.30,389.22 230.62,389.21 230.95,389.19 231.28,389.18 231.61,389.16 231.93,389.14 232.26,389.12 232.59,389.10 232.91,389.08 233.24,389.06 233.57,389.03 233.89,389.01 234.22,388.99 234.55,388.96 234.88,388.93 235.20,388.90 235.53,388.87 235.86,388.84 236.18,388.81 236.51,388.77 236.84,388.74 237.16,388.70 237.49,388.66 237.82,388.62 238.15,388.58 238.47,388.53 238.80,388.49 239.13,388.44 239.45,388.39 239.78,388.34 240.11,388.28 240.44,388.23 240.76,388.17 241.09,388.10 241.42,388.04 241.74,387.97 242.07,387.90 242.40,387.83 242.72,387.75 243.05,387.67 243.38,387.58 243.71,387.50 244.03,387.40 244.36,387.31 244.69,387.21 245.01,387.10 245.34,386.99 245.67,386.87 245.99,386.75 246.32,386.62 246.65,386.49 246.98,386.35 247.30,386.20 247.63,386.04 247.96,385.88 248.28,385.71 248.61,385.53 248.94,385.34 249.26,385.14 249.59,384.93 249.92,384.70 250.25,384.47 250.57,384.22 250.90,383.96 251.23,383.68 251.55,383.38 251.88,383.07 252.21,382.74 252.54,382.39 252.86,382.02 253.19,381.62 253.52,381.20 253.84,380.75 254.17,380.27 254.50,379.76 254.82,379.21 255.15,378.63 255.48,378.00 255.81,377.33 256.13,376.61 256.46,375.84 256.79,375.00 257.11,374.10 257.44,373.13 257.77,372.09 258.09,370.95 258.42,369.72 258.75,368.39 259.08,366.94 259.40,365.37 259.73,363.65 260.06,361.78 260.38,359.73 260.71,357.49 261.04,355.04 261.36,352.35 261.69,349.40 262.02,346.16 262.35,342.61 262.67,338.71 263.00,334.44 263.33,329.77 263.65,324.66 263.98,319.11 264.31,313.11 264.64,306.66 264.96,299.79 265.29,292.57 265.62,285.10 265.94,277.52 266.27,270.04 266.60,262.91 266.92,256.41 267.25,250.86 267.58,246.55 267.91,243.75 268.23,242.62 268.56,243.22 268.89,245.50 269.21,249.28 269.54,254.32 269.87,260.33 270.19,267.00 270.52,274.06 270.85,281.25 271.18,288.40 271.50,295.34 271.83,301.98 272.16,308.25 272.48,314.12 272.81,319.58 273.14,324.62 273.46,329.27 273.79,333.54 274.12,337.46 274.45,341.05 274.77,344.33 275.10,347.35 275.43,350.11 275.75,352.64 276.08,354.97 276.41,357.11 276.74,359.08 277.06,360.89 277.39,362.56 277.72,364.11 278.04,365.54 278.37,366.86 278.70,368.09 279.02,369.24 279.35,370.30 279.68,371.29 280.01,372.21 280.33,373.08 280.66,373.88 280.99,374.64 281.31,375.35 281.64,376.02 281.97,376.64 282.29,377.23 282.62,377.79 282.95,378.31 283.28,378.81 283.60,379.27 283.93,379.72 284.26,380.13 284.58,380.53 284.91,380.91 285.24,381.26 285.56,381.60 285.89,381.93 286.22,382.23 286.55,382.53 286.87,382.81 287.20,383.07 287.53,383.33 287.85,383.57 288.18,383.80 288.51,384.03 288.84,384.24 289.16,384.44 289.49,384.64 289.82,384.82 290.14,385.00 290.47,385.18 290.80,385.34 291.12,385.50 291.45,385.65 291.78,385.80 292.11,385.94 292.43,386.08 292.76,386.21 293.09,386.34 293.41,386.46 293.74,386.58 294.07,386.69 294.39,386.80 294.72,386.90 295.05,387.00 295.38,387.10 295.70,387.20 296.03,387.29 296.36,387.38 296.68,387.46 297.01,387.54 297.34,387.62 297.66,387.70 297.99,387.78 298.32,387.85 298.65,387.92 298.97,387.99 299.30,388.05 299.63,388.11 299.95,388.17 300.28,388.23 300.61,388.29 300.94,388.35 301.26,388.40 301.59,388.45 301.92,388.50 302.24,388.55 302.57,388.59 302.90,388.64 303.22,388.68 303.55,388.72 303.88,388.76 304.21,388.80 304.53,388.84 304.86,388.88 305.19,388.91 305.51,388.94 305.84,388.98 306.17,389.01 306.49,389.04 306.82,389.07 307.15,389.09 307.48,389.12 307.80,389.14 308.13,389.17 308.46,389.19 308.78,389.21 309.11,389.23 309.44,389.25 309.76,389.27 310.09,389.28 310.42,389.30 310.75,389.31 311.07,389.33 311.40,389.34 311.73,389.35 312.05,389.36 312.38,389.37 312.71,389.38 313.04,389.38 313.36,389.39 313.69,389.39 314.02,389.40 314.34,389.40 314.67,389.40 315.00,389.40 315.32,389.40 315.65,389.40 315.98,389.39 316.31,389.39 316.63,389.38 316.96,389.38 317.29,389.37 317.61,389.36 317.94,389.35 318.27,389.34 318.59,389.32 318.92,389.31 319.25,389.29 319.58,389.28 319.90,389.26 320.23,389.24 320.56,389.21 320.88,389.19 321.21,389.17 321.54,389.14 321.86,389.11 322.19,389.08 322.52,389.05 322.85,389.02 323.17,388.99 323.50,388.95 323.83,388.91 324.15,388.87 324.48,388.83 324.81,388.79 325.14,388.74 325.46,388.69 325.79,388.64 326.12,388.59 326.44,388.53 326.77,388.47 327.10,388.41 327.42,388.35 327.75,388.29 328.08,388.22 328.41,388.15 328.73,388.07 329.06,387.99 329.39,387.91 329.71,387.83 330.04,387.74 330.37,387.65 330.69,387.56 331.02,387.46 331.35,387.35 331.68,387.25 332.00,387.13 332.33,387.02 332.66,386.90 332.98,386.77 333.31,386.64 333.64,386.50 333.96,386.36 334.29,386.21 334.62,386.06 334.95,385.89 335.27,385.73 335.60,385.55 335.93,385.37 336.25,385.17 336.58,384.97 336.91,384.77 337.24,384.55 337.56,384.32 337.89,384.08 338.22,383.83 338.54,383.57 338.87,383.30 339.20,383.02 339.52,382.72 339.85,382.41 340.18,382.08 340.51,381.74 340.83,381.37 341.16,381.00 341.49,380.60 341.81,380.18 342.14,379.74 342.47,379.28 342.79,378.80 343.12,378.28 343.45,377.74 343.78,377.18 344.10,376.57 344.43,375.94 344.76,375.27 345.08,374.56 345.41,373.81 345.74,373.01 346.06,372.16 346.39,371.27 346.72,370.31 347.05,369.30 347.37,368.22 347.70,367.07 348.03,365.84 348.35,364.53 348.68,363.12 349.01,361.62 349.34,360.01 349.66,358.28 349.99,356.42 350.32,354.42 350.64,352.27 350.97,349.95 351.30,347.43 351.62,344.72 351.95,341.77 352.28,338.58 352.61,335.11 352.93,331.33 353.26,327.22 353.59,322.73 353.91,317.83 354.24,312.47 354.57,306.60 354.89,300.16 355.22,293.11 355.55,285.38 355.88,276.91 356.20,267.62 356.53,257.46 356.86,246.37 357.18,234.30 357.51,221.22 357.84,207.14 358.16,192.12 358.49,176.25 358.82,159.74 359.15,142.88 359.47,126.06 359.80,109.81 360.13,94.74 360.45,81.55 360.78,70.91 361.11,63.46 361.44,59.65 361.76,59.72 362.09,63.63 362.42,71.10 362.74,81.63 363.07,94.59 363.40,109.29 363.72,125.07 364.05,141.35 364.38,157.64 364.71,173.57 365.03,188.88 365.36,203.39 365.69,217.01 366.01,229.68 366.34,241.41 366.67,252.21 366.99,262.14 367.32,271.25 367.65,279.59 367.98,287.22 368.30,294.21 368.63,300.61 368.96,306.47 369.28,311.85 369.61,316.78 369.94,321.32 370.26,325.49 370.59,329.34 370.92,332.88 371.25,336.16 371.57,339.20 371.90,342.01 372.23,344.61 372.55,347.04 372.88,349.29 373.21,351.39 373.54,353.35 373.86,355.18 374.19,356.90 374.52,358.50 374.84,360.01 375.17,361.42 375.50,362.75 375.82,363.99 376.15,365.17 376.48,366.28 376.81,367.33 377.13,368.32 377.46,369.25 377.79,370.14 378.11,370.98 378.44,371.77 378.77,372.53 379.09,373.25 379.42,373.93 379.75,374.58 380.08,375.20 380.40,375.79 380.73,376.35 381.06,376.88 381.38,377.39 381.71,377.88 382.04,378.35 382.36,378.80 382.69,379.23 383.02,379.64 383.35,380.03 383.67,380.40 384.00,380.77 384.33,381.11 384.65,381.44 384.98,381.76 385.31,382.07 385.64,382.37 385.96,382.65 386.29,382.92 386.62,383.19 386.94,383.44 387.27,383.68 387.60,383.92 387.92,384.14 388.25,384.36 388.58,384.57 388.91,384.77 389.23,384.97 389.56,385.16 389.89,385.34 390.21,385.52 390.54,385.69 390.87,385.85 391.19,386.01 391.52,386.16 391.85,386.31 392.18,386.45 392.50,386.59 392.83,386.72 393.16,386.85 393.48,386.97 393.81,387.09 394.14,387.21 394.46,387.32 394.79,387.43 395.12,387.53 395.45,387.63 395.77,387.73 396.10,387.82 396.43,387.91 396.75,388.00 397.08,388.08 397.41,388.16 397.74,388.24 398.06,388.32 398.39,388.39 398.72,388.46 399.04,388.52 399.37,388.59 399.70,388.65 400.02,388.71 400.35,388.76 400.68,388.81 401.01,388.87 401.33,388.91 401.66,388.96 401.99,389.00 402.31,389.04 402.64,389.08 402.97,389.12 403.29,389.15 403.62,389.19 403.95,389.21 404.28,389.24 404.60,389.27 404.93,389.29 405.26,389.31 405.58,389.33 405.91,389.35 406.24,389.36 406.56,389.37 406.89,389.38 407.22,389.39 407.55,389.40 407.87,389.40 408.20,389.40"/>
<polyline stroke="#000" stroke-dasharray="7.4 3.2" points="81.50,389.40 81.97,389.40 82.43,389.40 82.90,389.39 83.37,389.39 83.84,389.38 84.30,389.37 84.77,389.35 85.24,389.34 85.71,389.33 86.17,389.31 86.64,389.29 87.11,389.27 87.58,389.24 88.04,389.22 88.51,389.19 88.98,389.16 89.45,389.13 89.91,389.10 90.38,389.07 90.85,389.03 91.32,388.99 91.78,388.95 92.25,388.91 92.72,388.87 93.19,388.82 93.65,388.78 94.12,388.73 94.59,388.68 95.06,388.63 95.52,388.57 95.99,388.52 96.46,388.46 96.93,388.40 97.39,388.34 97.86,388.27 98.33,388.21 98.80,388.14 99.26,388.07 99.73,388.00 100.20,387.93 100.67,387.85 101.13,387.78 101.60,387.70 102.07,387.62 102.54,387.54 103.00,387.45 103.47,387.37 103.94,387.28 104.41,387.19 104.87,387.10 105.34,387.01 105.81,386.91 106.28,386.82 106.74,386.72 107.21,386.62 107.68,386.51 108.15,386.41 108.61,386.30 109.08,386.20 109.55,386.09 110.02,385.98 110.48,385.86 110.95,385.75 111.42,385.63 111.89,385.51 112.35,385.39 112.82,385.27 113.29,385.15 113.76,385.02 114.22,384.89 114.69,384.76 115.16,384.63 115.63,384.50 116.09,384.36 116.56,384.22 117.03,384.09 117.50,383.94 117.96,383.80 118.43,383.66 118.90,383.51 119.37,383.36 119.83,383.21 120.30,383.06 120.77,382.91 121.24,382.75 121.70,382.60 122.17,382.44 122.64,382.27 123.11,382.11 123.57,381.95 124.04,381.78 124.51,381.61 124.98,381.44 125.44,381.27 125.91,381.10 126.38,380.92 126.85,380.74 127.31,380.56 127.78,380.38 128.25,380.20 128.72,380.01 129.18,379.83 129.65,379.64 130.12,379.45 130.59,379.26 131.05,379.06 131.52,378.87 131.99,378.67 132.46,378.47 132.92,378.27 133.39,378.06 133.86,377.86 134.33,377.65 134.79,377.44 135.26,377.23 135.73,377.02 136.20,376.80 136.66,376.59 137.13,376.37 137.60,376.15 138.07,375.93 138.53,375.71 139.00,375.48 139.47,375.25 139.94,375.02 140.40,374.79 140.87,374.56 141.34,374.33 141.81,374.09 142.27,373.85 142.74,373.61 143.21,373.37 143.68,373.12 144.14,372.88 144.61,372.63 145.08,372.38 145.55,372.13 146.01,371.88 146.48,371.62 146.95,371.37 147.42,371.11 147.88,370.85 148.35,370.59 148.82,370.32 149.29,370.06 149.75,369.79 150.22,369.52 150.69,369.25 151.16,368.97 151.62,368.70 152.09,368.42 152.56,368.14 153.03,367.86 153.49,367.58 153.96,367.29 154.43,367.01 154.90,366.72 155.36,366.43 155.83,366.14 156.30,365.85 156.77,365.55 157.23,365.25 157.70,364.95 158.17,364.65 158.64,364.35 159.10,364.05 159.57,363.74 160.04,363.43 160.51,363.12 160.97,362.81 161.44,362.50 161.91,362.18 162.38,361.86 162.84,361.54 163.31,361.22 163.78,360.90 164.25,360.57 164.71,360.25 165.18,359.92 165.65,359.59 166.12,359.26 166.58,358.92 167.05,358.59 167.52,358.25 167.99,357.91 168.45,357.57 168.92,357.23 169.39,356.88 169.86,356.53 170.32,356.18 170.79,355.83 171.26,355.48 171.73,355.13 172.19,354.77 172.66,354.41 173.13,354.05 173.60,353.69 174.06,353.33 174.53,352.96 175.00,352.60 175.47,352.23 175.93,351.86 176.40,351.48 176.87,351.11 177.34,350.73 177.80,350.35 178.27,349.97 178.74,349.59 179.21,349.21 179.67,348.82 180.14,348.44 180.61,348.05 181.08,347.66 181.54,347.26 182.01,346.87 182.48,346.47 182.95,346.07 183.41,345.67 183.88,345.27 184.35,344.87 184.82,344.46 185.28,344.05 185.75,343.64 186.22,343.23 186.69,342.82 187.15,342.41 187.62,341.99 188.09,341.57 188.56,341.15 189.02,340.73 189.49,340.30 189.96,339.88 190.43,339.45 190.89,339.02 191.36,338.59 191.83,338.15 192.30,337.72 192.76,337.28 193.23,336.84 193.70,336.40 194.17,335.96 194.63,335.52 195.10,335.07 195.57,334.62 196.04,334.17 196.50,333.72 196.97,333.27 197.44,332.81 197.91,332.35 198.37,331.89 198.84,331.43 199.31,330.97 199.78,330.51 200.24,330.04 200.71,329.57 201.18,329.10 201.65,328.63 202.11,328.16 202.58,327.68 203.05,327.20 203.52,326.72 203.98,326.24 204.45,325.76 204.92,325.27 205.39,324.79 205.85,324.30 206.32,323.81 206.79,323.32 207.26,322.82 207.72,322.33 208.19,321.83 208.66,321.33 209.13,320.83 209.59,320.32 210.06,319.82 210.53,319.31 211.00,318.80 211.46,318.29 211.93,317.78 212.40,317.26 212.87,316.75 213.33,316.23 213.80,315.71 214.27,315.19 214.74,314.67 215.20,314.14 215.67,313.61 216.14,313.08 216.61,312.55 217.07,312.02 217.54,311.49 218.01,310.95 218.48,310.41 218.94,309.87 219.41,309.33 219.88,308.79 220.35,308.24 220.81,307.69 221.28,307.14 221.75,306.59 222.22,306.04 222.68,305.48 223.15,304.93 223.62,304.37 224.09,303.81 224.55,303.25 225.02,302.68 225.49,302.12 225.96,301.55 226.42,300.98 226.89,300.41 227.36,299.83 227.83,299.26 228.29,298.68 228.76,298.10 229.23,297.52 229.70,296.94 230.16,296.36 230.63,295.77 231.10,295.18 231.57,294.59 232.03,294.00 232.50,293.41 232.97,292.81 233.44,292.22 233.90,291.62 234.37,291.02 234.84,290.41 235.31,289.81 235.77,289.20 236.24,288.59 236.71,287.98 237.18,287.37 237.64,286.76 238.11,286.14 238.58,285.53 239.05,284.91 239.51,284.29 239.98,283.66 240.45,283.04 240.92,282.41 241.38,281.78 241.85,281.15 242.32,280.52 242.79,279.89 243.25,279.25 243.72,278.61 244.19,277.97 244.66,277.33 245.12,276.69 245.59,276.04 246.06,275.40 246.53,274.75 246.99,274.10 247.46,273.45 247.93,272.79 248.40,272.14 248.86,271.48 249.33,270.82 249.80,270.16 250.27,269.49 250.73,268.83 251.20,268.16 251.67,267.49 252.14,266.82 252.60,266.15 253.07,265.47 253.54,264.80 254.01,264.12 254.47,263.44 254.94,262.76 255.41,262.07 255.88,261.39 256.34,260.70 256.81,260.01 257.28,259.32 257.75,258.63 258.21,257.93 258.68,257.24 259.15,256.54 259.62,255.84 260.08,255.14 260.55,254.43 261.02,253.73 261.48,253.02 261.95,252.31 262.42,251.60 262.89,250.89 263.35,250.17 263.82,249.45 264.29,248.74 264.76,248.02 265.22,247.29 265.69,246.57 266.16,245.84 266.63,245.11 267.09,244.39 267.56,243.65 268.03,242.92 268.50,242.19 268.96,241.45 269.43,240.71 269.90,239.97 270.37,239.23 270.83,238.48 271.30,237.74 271.77,236.99 272.24,236.24 272.70,235.49 273.17,234.73 273.64,233.98 274.11,233.22 274.57,232.46 275.04,231.70 275.51,230.94 275.98,230.17 276.44,229.41 276.91,228.64 277.38,227.87 277.85,227.10 278.31,226.32 278.78,225.55 279.25,224.77 279.72,223.99 280.18,223.21 280.65,222.43 281.12,221.64 281.59,220.85 282.05,220.07 282.52,219.28 282.99,218.48 283.46,217.69 283.92,216.89 284.39,216.10 284.86,215.30 285.33,214.49 285.79,213.69 286.26,212.89 286.73,212.08 287.20,211.27 287.66,210.46 288.13,209.65 288.60,208.83 289.07,208.02 289.53,207.20 290.00,206.38 290.47,205.56 290.94,204.73 291.40,203.91 291.87,203.08 292.34,202.25 292.81,201.42 293.27,200.59 293.74,199.75 294.21,198.92 294.68,198.08 295.14,197.24 295.61,196.40 296.08,195.55 296.55,194.71 297.01,193.86 297.48,193.01 297.95,192.16 298.42,191.31 298.88,190.45 299.35,189.60 299.82,188.74 300.29,187.88 300.75,187.02 301.22,186.15 301.69,185.29 302.16,184.42 302.62,183.55 303.09,182.68 303.56,181.80 304.03,180.93 304.49,180.05 304.96,179.17 305.43,178.29 305.90,177.41 306.36,176.53 306.83,175.64 307.30,174.75 307.77,173.86 308.23,172.97 308.70,172.08 309.17,171.18 309.64,170.29 310.10,169.39 310.57,168.49 311.04,167.58 311.51,166.68 311.97,165.77 312.44,164.86 312.91,163.95 313.38,163.04 313.84,162.13 314.31,161.21 314.78,160.30 315.25,159.38 315.71,158.46 316.18,157.53 316.65,156.61 317.12,155.68 317.58,154.75 318.05,153.82 318.52,152.89 318.99,151.96 319.45,151.02 319.92,150.08 320.39,149.14 320.86,148.20 321.32,147.26 321.79,146.32 322.26,145.37 322.73,144.42 323.19,143.47 323.66,142.52 324.13,141.56 324.60,140.61 325.06,139.65 325.53,138.69 326.00,137.73 326.47,136.76 326.93,135.80 327.40,134.83 327.87,133.86 328.34,132.89 328.80,131.92 329.27,130.95 329.74,129.97 330.21,128.99 330.67,128.01 331.14,127.03 331.61,126.05 332.08,125.06 332.54,124.07 333.01,123.08 333.48,122.09 333.95,121.10 334.41,120.11 334.88,119.11 335.35,118.11 335.82,117.11 336.28,116.11 336.75,115.11 337.22,114.10 337.69,113.09 338.15,112.08 338.62,111.07 339.09,110.06 339.56,109.04 340.02,108.03 340.49,107.01 340.96,105.99 341.43,104.97 341.89,103.94 342.36,102.92 342.83,101.89 343.30,100.86 343.76,99.83 344.23,98.79 344.70,97.76 345.17,96.72 345.63,95.68 346.10,94.64 346.57,93.60 347.04,92.56 347.50,91.51 347.97,90.46 348.44,89.41 348.91,88.36 349.37,87.31 349.84,86.25 350.31,85.19 350.78,84.14 351.24,83.07 351.71,82.01 352.18,80.95 352.65,79.88 353.11,78.81 353.58,77.74 354.05,76.67 354.52,75.60 354.98,74.52 355.45,73.44 355.92,72.36 356.39,71.28 356.85,70.20 357.32,69.12 357.79,68.03 358.26,66.94 358.72,65.85 359.19,64.76 359.66,63.66 360.13,62.57 360.59,61.47 361.06,60.37 361.53,59.27"/>
</g>
<rect x="81.5" y="10.0" width="326.70" height="379.40" stroke="#000" stroke-width="1.15" fill="none"/>
<path d="M78.0,389.40H81.5M78.0,326.17H81.5M78.0,262.93H81.5M78.0,199.70H81.5M78.0,136.47H81.5M78.0,73.23H81.5M78.0,10.00H81.5M81.50,389.4V392.9M268.19,389.4V392.9" stroke="#000" stroke-width="1.15" fill="none"/>
<text x="76.3" y="400.50" text-anchor="end" font-size="31.5" font-family="Liberation Serif, serif">0.0</text>
<text x="76.3" y="337.27" text-anchor="end" font-size="31.5" font-family="Liberation Serif, serif">0.2</text>
<text x="76.3" y="274.03" text-anchor="end" font-size="31.5" font-family="Liberation Serif, serif">0.4</text>
<text x="76.3" y="210.80" text-anchor="end" font-size="31.5" font-family="Liberation Serif, serif">0.6</text>
<text x="76.3" y="147.57" text-anchor="end" font-size="31.5" font-family="Liberation Serif, serif">0.8</text>
<text x="76.3" y="84.33" text-anchor="end" font-size="31.5" font-family="Liberation Serif, serif">1.0</text>
<text x="76.3" y="21.10" text-anchor="end" font-size="31.5" font-family="Liberation Serif, serif">1.2</text>
<text x="81.50" y="417.00" text-anchor="middle" font-size="31.5" font-family="Liberation Serif, serif">0</text>
<text x="268.19" y="417.00" text-anchor="middle" font-size="31.5" font-family="Liberation Serif, serif">2</text>
<path d="M105.8,43.9H161.8" stroke="#800080" stroke-width="2" stroke-dasharray="2 3.3"/>
<text transform="translate(182.80,53.55)" font-family="Liberation Serif, serif" font-size="28" font-style="italic">g</text>
<text transform="translate(186.65,51.27) scale(1.017,0.857)" font-family="Liberation Serif, serif" font-size="28">˜</text>
<text transform="translate(199.05,55.95) scale(1.3,1.0)" font-family="Liberation Serif, serif" font-size="28">=</text>
<text transform="translate(226.85,56.08) scale(1.169,1.0)" font-family="Liberation Serif, serif" font-size="28">−</text>
<text transform="translate(249.00,53.82)" font-family="Liberation Serif, serif" font-size="28">0.92</text>
<path d="M105.8,82.55H161.8" stroke="#ffa500" stroke-width="2" stroke-dasharray="12.8 3.2 2 3.2"/>
<text transform="translate(182.80,92.00)" font-family="Liberation Serif, serif" font-size="28" font-style="italic">g</text>
<text transform="translate(186.65,89.72) scale(1.017,0.857)" font-family="Liberation Serif, serif" font-size="28">˜</text>
<text transform="translate(199.05,94.40) scale(1.3,1.0)" font-family="Liberation Serif, serif" font-size="28">=</text>
<text transform="translate(226.85,94.53) scale(1.169,1.0)" font-family="Liberation Serif, serif" font-size="28">−</text>
<text transform="translate(249.00,92.27)" font-family="Liberation Serif, serif" font-size="28">0.94</text>
<path d="M105.8,121.2H161.8" stroke="#ff0000" stroke-width="2" stroke-linecap="square"/>
<text transform="translate(182.80,130.45)" font-family="Liberation Serif, serif" font-size="28" font-style="italic">g</text>
<text transform="translate(186.65,128.17) scale(1.017,0.857)" font-family="Liberation Serif, serif" font-size="28">˜</text>
<text transform="translate(199.05,132.85) scale(1.3,1.0)" font-family="Liberation Serif, serif" font-size="28">=</text>
<text transform="translate(226.85,132.98) scale(1.169,1.0)" font-family="Liberation Serif, serif" font-size="28">−</text>
<text transform="translate(249.00,130.72)" font-family="Liberation Serif, serif" font-size="28">0.96</text>
<text transform="translate(375.12,33.05)" font-family="Liberation Serif, serif" font-size="23" font-weight="bold">(a)</text>
<text transform="translate(166.74,464.80) scale(1.262,1.4)" font-family="DejaVu Serif, serif" font-size="32">√</text>
<text transform="translate(195.70,457.90)" font-family="Liberation Serif, serif" font-size="32">Λ</text>
<text transform="translate(218.38,462.30)" font-family="Liberation Serif, serif" font-size="22" font-style="italic">g</text>
<text transform="translate(219.99,463.89) scale(1.244,1.091)" font-family="Liberation Serif, serif" font-size="22">˜</text>
<text transform="translate(233.58,457.72)" font-family="Liberation Serif, serif" font-size="32">Ω</text>
<text transform="translate(255.75,457.62)" font-family="Liberation Serif, serif" font-size="32" font-style="italic">t</text>
<text transform="translate(263.18,458.38)" font-family="Liberation Serif, serif" font-size="32">/</text>
<text transform="translate(272.95,456.88)" font-family="Liberation Serif, serif" font-size="32">(</text>
<text transform="translate(283.92,457.98)" font-family="Liberation Serif, serif" font-size="32">2</text>
<text transform="translate(298.45,458.25)" font-family="Liberation Serif, serif" font-size="32" font-style="italic">π</text>
<text transform="translate(314.88,456.88)" font-family="Liberation Serif, serif" font-size="32">)</text>
<path d="M190.90,428.6H234.20" stroke="#000" stroke-width="1.7"/>
<g transform="translate(24.8,254.4) rotate(-90) translate(-100,-200)">
<text transform="translate(99.78,199.80) scale(0.87,0.995)" font-family="STIX Two Math, DejaVu Sans, sans-serif" font-size="30" style="stroke-width:0.9px">ℱ</text>
<text transform="translate(118.02,204.20)" font-family="Liberation Serif, serif" font-size="22" font-style="italic">g</text>
<text transform="translate(121.73,206.13) scale(1.096,1.127)" font-family="Liberation Serif, serif" font-size="22">˜</text>
<text transform="translate(130.85,199.72)" font-family="Liberation Serif, serif" font-size="32">(</text>
<text transform="translate(140.20,201.48)" font-family="Liberation Serif, serif" font-size="32" font-style="italic">t</text>
<text transform="translate(148.38,199.72)" font-family="Liberation Serif, serif" font-size="32">)</text>
<text transform="translate(159.57,200.58)" font-family="Liberation Serif, serif" font-size="32">/</text>
<text transform="translate(167.62,200.20)" font-family="Liberation Serif, serif" font-size="32">1</text>
<text transform="translate(182.90,200.50)" font-family="Liberation Serif, serif" font-size="32">0</text>
<text transform="translate(198.38,190.08)" font-family="Liberation Serif, serif" font-size="22">7</text>
</g>
<g clip-path="url(#cb)" fill="none" stroke-width="2.5" stroke-linejoin="round">
<polyline stroke="#800080" stroke-dasharray="2 3.3" points="484.00,389.40 484.36,389.40 484.71,389.40 485.07,389.40 485.42,389.40 485.78,389.39 486.13,389.39 486.49,389.39 486.85,389.39 487.20,389.39 487.56,389.39 487.91,389.40 488.27,389.40 488.62,389.38 488.98,389.37 489.34,389.36 489.69,389.35 490.05,389.34 490.40,389.33 490.76,389.32 491.11,389.32 491.47,389.31 491.83,389.30 492.18,389.29 492.54,389.28 492.89,389.27 493.25,389.26 493.60,389.25 493.96,389.24 494.31,389.23 494.67,389.22 495.03,389.22 495.38,389.24 495.74,389.29 496.09,389.38 496.45,389.37 496.80,389.26 497.16,389.18 497.52,389.13 497.87,389.10 498.23,389.08 498.58,389.05 498.94,389.03 499.29,389.01 499.65,388.99 500.01,388.97 500.36,388.95 500.72,388.93 501.07,388.91 501.43,388.89 501.78,388.88 502.14,388.86 502.50,388.85 502.85,388.85 503.21,388.87 503.56,388.92 503.92,389.07 504.27,389.34 504.63,389.31 504.99,389.01 505.34,388.82 505.70,388.71 506.05,388.65 506.41,388.60 506.76,388.55 507.12,388.52 507.48,388.48 507.83,388.45 508.19,388.42 508.54,388.39 508.90,388.36 509.25,388.33 509.61,388.31 509.96,388.29 510.32,388.27 510.68,388.26 511.03,388.27 511.39,388.32 511.74,388.45 512.10,388.76 512.45,389.30 512.81,389.22 513.17,388.64 513.52,388.28 513.88,388.10 514.23,387.98 514.59,387.90 514.94,387.84 515.30,387.78 515.66,387.73 516.01,387.69 516.37,387.65 516.72,387.61 517.08,387.57 517.43,387.53 517.79,387.50 518.15,387.48 518.50,387.46 518.86,387.46 519.21,387.49 519.57,387.58 519.92,387.81 520.28,388.36 520.64,389.25 520.99,389.08 521.35,388.13 521.70,387.57 522.06,387.28 522.41,387.11 522.77,386.99 523.13,386.90 523.48,386.82 523.84,386.76 524.19,386.70 524.55,386.65 524.90,386.60 525.26,386.55 525.61,386.51 525.97,386.47 526.33,386.45 526.68,386.43 527.04,386.45 527.39,386.50 527.75,386.66 528.10,387.02 528.46,387.86 528.82,389.20 529.17,388.88 529.53,387.49 529.88,386.68 530.24,386.26 530.59,386.02 530.95,385.86 531.31,385.74 531.66,385.65 532.02,385.56 532.37,385.49 532.73,385.42 533.08,385.36 533.44,385.31 533.80,385.26 534.15,385.22 534.51,385.20 534.86,385.19 535.22,385.22 535.57,385.31 535.93,385.54 536.29,386.07 536.64,387.28 537.00,389.15 537.35,388.64 537.71,386.70 538.06,385.60 538.42,385.05 538.78,384.73 539.13,384.52 539.49,384.37 539.84,384.25 540.20,384.14 540.55,384.05 540.91,383.97 541.27,383.90 541.62,383.84 541.98,383.79 542.33,383.75 542.69,383.72 543.04,383.73 543.40,383.78 543.75,383.92 544.11,384.24 544.47,384.97 544.82,386.63 545.18,389.11 545.53,388.32 545.89,385.77 546.24,384.34 546.60,383.63 546.96,383.22 547.31,382.96 547.67,382.77 548.02,382.62 548.38,382.50 548.73,382.39 549.09,382.30 549.45,382.22 549.80,382.15 550.16,382.09 550.51,382.05 550.87,382.03 551.22,382.05 551.58,382.13 551.94,382.33 552.29,382.76 552.65,383.73 553.00,385.91 553.36,389.08 553.71,387.94 554.07,384.69 554.43,382.90 554.78,382.01 555.14,381.51 555.49,381.18 555.85,380.96 556.20,380.78 556.56,380.63 556.92,380.51 557.27,380.41 557.63,380.31 557.98,380.24 558.34,380.17 558.69,380.13 559.05,380.12 559.40,380.16 559.76,380.27 560.12,380.53 560.47,381.09 560.83,382.34 561.18,385.12 561.54,389.06 561.89,387.47 562.25,383.45 562.61,381.27 562.96,380.19 563.32,379.58 563.67,379.19 564.03,378.92 564.38,378.71 564.74,378.55 565.10,378.40 565.45,378.29 565.81,378.18 566.16,378.10 566.52,378.03 566.87,377.99 567.23,377.99 567.59,378.05 567.94,378.20 568.30,378.53 568.65,379.25 569.01,380.81 569.36,384.27 569.72,389.04 570.08,386.92 570.43,382.06 570.79,379.45 571.14,378.16 571.50,377.44 571.85,376.98 572.21,376.66 572.57,376.42 572.92,376.23 573.28,376.07 573.63,375.94 573.99,375.83 574.34,375.74 574.70,375.67 575.05,375.63 575.41,375.64 575.77,375.72 576.12,375.92 576.48,376.34 576.83,377.22 577.19,379.14 577.54,383.38 577.90,389.04 578.26,386.28 578.61,380.51 578.97,377.44 579.32,375.92 579.68,375.08 580.03,374.55 580.39,374.19 580.75,373.91 581.10,373.70 581.46,373.52 581.81,373.37 582.17,373.25 582.52,373.15 582.88,373.08 583.24,373.05 583.59,373.07 583.95,373.18 584.30,373.43 584.66,373.95 585.01,375.01 585.37,377.34 585.73,382.44 586.08,389.06 586.44,385.54 586.79,378.79 587.15,375.24 587.50,373.49 587.86,372.51 588.22,371.91 588.57,371.49 588.93,371.18 589.28,370.94 589.64,370.74 589.99,370.58 590.35,370.44 590.71,370.34 591.06,370.27 591.42,370.25 591.77,370.29 592.13,370.42 592.48,370.73 592.84,371.35 593.19,372.63 593.55,375.41 593.91,381.46 594.26,389.08 594.62,384.69 594.97,376.90 595.33,372.84 595.68,370.84 596.04,369.73 596.40,369.04 596.75,368.57 597.11,368.22 597.46,367.95 597.82,367.74 598.17,367.56 598.53,367.42 598.89,367.31 599.24,367.24 599.60,367.22 599.95,367.28 600.31,367.45 600.66,367.82 601.02,368.57 601.38,370.08 601.73,373.36 602.09,380.46 602.44,389.12 602.80,383.73 603.15,374.84 603.51,370.25 603.87,367.99 604.22,366.74 604.58,365.96 604.93,365.43 605.29,365.05 605.64,364.75 606.00,364.51 606.36,364.32 606.71,364.16 607.07,364.05 607.42,363.98 607.78,363.98 608.13,364.06 608.49,364.27 608.84,364.71 609.20,365.58 609.56,367.35 609.91,371.18 610.27,379.43 610.62,389.16 610.98,382.64 611.33,372.60 611.69,367.46 612.05,364.92 612.40,363.53 612.76,362.66 613.11,362.07 613.47,361.64 613.82,361.32 614.18,361.06 614.54,360.85 614.89,360.69 615.25,360.57 615.60,360.51 615.96,360.51 616.31,360.61 616.67,360.87 617.03,361.39 617.38,362.40 617.74,364.46 618.09,368.88 618.45,378.39 618.80,389.21 619.16,381.43 619.52,370.19 619.87,364.47 620.23,361.65 620.58,360.10 620.94,359.14 621.29,358.49 621.65,358.02 622.01,357.66 622.36,357.38 622.72,357.16 623.07,356.99 623.43,356.87 623.78,356.81 624.14,356.82 624.49,356.95 624.85,357.25 625.21,357.86 625.56,359.03 625.92,361.39 626.27,366.48 626.63,377.35 626.98,389.26 627.34,380.09 627.70,367.59 628.05,361.28 628.41,358.17 628.76,356.46 629.12,355.40 629.47,354.69 629.83,354.17 630.19,353.78 630.54,353.48 630.90,353.24 631.25,353.06 631.61,352.94 631.96,352.88 632.32,352.91 632.68,353.07 633.03,353.43 633.39,354.12 633.74,355.47 634.10,358.16 634.45,363.96 634.81,376.30 635.17,389.31 635.52,378.60 635.88,364.81 636.23,357.89 636.59,354.48 636.94,352.60 637.30,351.44 637.66,350.66 638.01,350.10 638.37,349.68 638.72,349.35 639.08,349.10 639.43,348.91 639.79,348.79 640.15,348.74 640.50,348.79 640.86,348.97 641.21,349.38 641.57,350.18 641.92,351.71 642.28,354.77 642.63,361.34 642.99,375.26 643.35,389.35 643.70,376.97 644.06,361.84 644.41,354.30 644.77,350.58 645.12,348.52 645.48,347.26 645.84,346.42 646.19,345.81 646.55,345.35 646.90,345.01 647.26,344.74 647.61,344.54 647.97,344.41 648.33,344.37 648.68,344.44 649.04,344.66 649.39,345.13 649.75,346.04 650.10,347.76 650.46,351.21 650.82,358.62 651.17,374.23 651.53,389.39 651.88,375.19 652.24,358.69 652.59,350.50 652.95,346.46 653.31,344.23 653.66,342.86 654.02,341.95 654.37,341.29 654.73,340.80 655.08,340.43 655.44,340.15 655.80,339.94 656.15,339.81 656.51,339.78 656.86,339.87 657.22,340.13 657.57,340.67 657.93,341.69 658.28,343.62 658.64,347.49 659.00,355.80 659.35,373.23 659.71,389.40 660.06,373.24 660.42,355.34 660.77,346.50 661.13,342.14 661.49,339.72 661.84,338.25 662.20,337.26 662.55,336.55 662.91,336.03 663.26,335.63 663.62,335.33 663.98,335.12 664.33,334.99 664.69,334.97 665.04,335.08 665.40,335.38 665.75,335.99 666.11,337.13 666.47,339.30 666.82,343.62 667.18,352.90 667.53,372.25 667.89,389.39 668.24,371.14 668.60,351.79 668.96,342.29 669.31,337.59 669.67,335.00 670.02,333.41 670.38,332.34 670.73,331.59 671.09,331.03 671.45,330.61 671.80,330.30 672.16,330.07 672.51,329.95 672.87,329.93 673.22,330.07 673.58,330.41 673.93,331.10 674.29,332.37 674.65,334.78 675.00,339.59 675.36,349.91 675.71,371.31 676.07,389.35 676.42,368.86 676.78,348.05 677.14,337.88 677.49,332.84 677.85,330.05 678.20,328.35 678.56,327.21 678.91,326.40 679.27,325.81 679.63,325.36 679.98,325.03 680.34,324.80 680.69,324.68 681.05,324.68 681.40,324.84 681.76,325.23 682.12,325.99 682.47,327.41 682.83,330.08 683.18,335.41 683.54,346.85 683.89,370.41 684.25,389.27 684.61,366.41 684.96,344.11 685.32,333.25 685.67,327.87 686.03,324.89 686.38,323.07 686.74,321.85 687.10,320.99 687.45,320.36 687.81,319.89 688.16,319.55 688.52,319.31 688.87,319.19 689.23,319.20 689.58,319.39 689.94,319.83 690.30,320.68 690.65,322.25 691.01,325.20 691.36,331.08 691.72,343.71 692.07,369.57 692.43,389.14 692.79,363.77 693.14,339.97 693.50,328.42 693.85,322.69 694.21,319.51 694.56,317.56 694.92,316.27 695.28,315.36 695.63,314.69 695.99,314.20 696.34,313.83 696.70,313.59 697.05,313.47 697.41,313.50 697.77,313.72 698.12,314.21 698.48,315.16 698.83,316.89 699.19,320.13 699.54,326.60 699.90,340.50 700.26,368.77 700.61,388.96 700.97,360.96 701.32,335.62 701.68,323.37 702.03,317.29 702.39,313.91 702.75,311.84 703.10,310.47 703.46,309.50 703.81,308.80 704.17,308.28 704.52,307.90 704.88,307.65 705.24,307.54 705.59,307.58 705.95,307.83 706.30,308.38 706.66,309.42 707.01,311.33 707.37,314.88 707.72,321.98 708.08,337.24 708.44,368.05 708.79,388.71 709.15,357.95 709.50,331.07 709.86,318.12 710.21,311.67 710.57,308.09 710.93,305.90 711.28,304.44 711.64,303.42 711.99,302.68 712.35,302.13 712.70,301.74 713.06,301.49 713.42,301.38 713.77,301.44 714.13,301.72 714.48,302.33 714.84,303.48 715.19,305.56 715.55,309.45 715.91,317.21 716.26,333.92 716.62,367.38 716.97,388.39 717.33,354.74 717.68,326.31 718.04,312.65 718.40,305.84 718.75,302.05 719.11,299.73 719.46,298.19 719.82,297.11 720.17,296.33 720.53,295.76 720.89,295.35 721.24,295.10 721.60,294.99 721.95,295.07 722.31,295.39 722.66,296.07 723.02,297.33 723.37,299.60 723.73,303.84 724.09,312.31 724.44,330.55 724.80,366.80 725.15,387.98 725.51,351.34 725.86,321.35 726.22,306.97 726.58,299.79 726.93,295.80 727.29,293.34 727.64,291.72 728.00,290.58 728.35,289.76 728.71,289.17 729.07,288.75 729.42,288.48 729.78,288.39 730.13,288.49 730.49,288.85 730.84,289.59 731.20,290.97 731.56,293.44 731.91,298.05 732.27,307.27 732.62,327.13 732.98,366.29 733.33,387.48 733.69,347.74 734.05,316.17 734.40,301.07 734.76,293.53 735.11,289.32 735.47,286.73 735.82,285.02 736.18,283.83 736.54,282.97 736.89,282.35 737.25,281.91 737.60,281.65 737.96,281.56 738.31,281.68 738.67,282.08 739.02,282.90 739.38,284.39 739.74,287.08 740.09,292.09 740.45,302.10 740.80,323.68 741.16,365.87 741.51,386.87 741.87,343.92 742.23,310.78 742.58,294.96 742.94,287.04 743.29,282.62 743.65,279.90 744.00,278.10 744.36,276.85 744.72,275.95 745.07,275.30 745.43,274.85 745.78,274.59 746.14,274.51 746.49,274.65 746.85,275.10 747.21,275.99 747.56,277.62 747.92,280.53 748.27,285.95 748.63,296.80 748.98,320.21 749.34,365.53 749.70,386.15 750.05,339.90 750.41,305.18 750.76,288.63 751.12,280.34 751.47,275.70 751.83,272.85 752.19,270.96 752.54,269.65 752.90,268.71 753.25,268.04 753.61,267.57 753.96,267.30 754.32,267.23 754.68,267.40 755.03,267.90 755.39,268.87 755.74,270.63 756.10,273.78 756.45,279.64 756.81,291.37 757.16,316.71 757.52,365.29 757.88,385.30 758.23,335.66 758.59,299.36 758.94,282.09 759.30,273.42 759.65,268.56 760.01,265.57 760.37,263.60 760.72,262.22 761.08,261.24 761.43,260.54 761.79,260.07 762.14,259.79 762.50,259.73 762.86,259.93 763.21,260.47 763.57,261.53 763.92,263.43 764.28,266.83 764.63,273.15 764.99,285.82 765.35,313.19 765.70,365.14 766.06,384.31 766.41,331.20 766.77,293.32 767.12,275.33 767.48,266.27 767.84,261.20 768.19,258.07 768.55,256.01 768.90,254.57 769.26,253.55 769.61,252.83 769.97,252.34 770.33,252.06 770.68,252.01 771.04,252.24 771.39,252.84 771.75,253.98 772.10,256.03 772.46,259.69 772.81,266.50 773.17,280.16 773.53,309.67 773.88,365.10 774.24,383.18 774.59,326.52 774.95,287.07 775.30,268.35 775.66,258.91 776.02,253.61 776.37,250.35 776.73,248.19 777.08,246.70 777.44,245.64 777.79,244.88 778.15,244.38 778.51,244.10 778.86,244.07 779.22,244.33 779.57,244.98 779.93,246.22 780.28,248.43 780.64,252.36 781.00,259.67 781.35,274.37 781.71,306.15 782.06,365.15 782.42,381.89 782.77,321.62 783.13,280.60 783.49,261.15 783.84,251.33 784.20,245.81 784.55,242.40 784.91,240.16 785.26,238.60 785.62,237.50 785.98,236.72 786.33,236.20 786.69,235.93 787.04,235.91 787.40,236.20 787.75,236.90 788.11,238.24 788.46,240.61 788.82,244.83 789.18,252.68 789.53,268.48 789.89,302.64 790.24,365.31 790.60,380.43 790.95,316.49 791.31,273.90 791.67,253.74 792.02,243.53 792.38,237.78 792.73,234.23 793.09,231.89 793.44,230.28 793.80,229.13 794.16,228.33 794.51,227.80 794.87,227.52 795.22,227.52 795.58,227.84 795.93,228.61 796.29,230.05 796.65,232.60 797.00,237.11 797.36,245.52 797.71,262.48 798.07,299.14 798.42,365.57 798.78,378.80 799.14,311.13 799.49,266.99 799.85,246.10 800.20,235.51 800.56,229.53 800.91,225.84 801.27,223.41 801.63,221.73 801.98,220.54 802.34,219.71 802.69,219.17 803.05,218.90 803.40,218.91 803.76,219.27 804.12,220.10 804.47,221.65 804.83,224.37 805.18,229.20 805.54,238.20 805.89,256.37 806.25,295.67 806.60,365.93 806.96,376.97 807.32,305.54 807.67,259.85 808.03,238.24 808.38,227.26 808.74,221.06 809.09,217.23 809.45,214.70 809.81,212.95 810.16,211.72 810.52,210.87 810.87,210.32"/>
<polyline stroke="#ffa500" stroke-dasharray="12.8 3.2 2 3.2" points="484.00,389.40 484.36,389.40 484.71,389.40 485.07,389.40 485.42,389.40 485.78,389.39 486.13,389.39 486.49,389.39 486.85,389.38 487.20,389.38 487.56,389.38 487.91,389.40 488.27,389.39 488.62,389.37 488.98,389.35 489.34,389.34 489.69,389.33 490.05,389.32 490.40,389.31 490.76,389.30 491.11,389.29 491.47,389.27 491.83,389.26 492.18,389.25 492.54,389.24 492.89,389.22 493.25,389.21 493.60,389.19 493.96,389.18 494.31,389.17 494.67,389.16 495.03,389.15 495.38,389.17 495.74,389.22 496.09,389.36 496.45,389.35 496.80,389.18 497.16,389.08 497.52,389.03 497.87,388.99 498.23,388.96 498.58,388.93 498.94,388.90 499.29,388.87 499.65,388.85 500.01,388.82 500.36,388.79 500.72,388.77 501.07,388.74 501.43,388.72 501.78,388.69 502.14,388.67 502.50,388.65 502.85,388.64 503.21,388.65 503.56,388.71 503.92,388.89 504.27,389.30 504.63,389.25 504.99,388.80 505.34,388.56 505.70,388.44 506.05,388.36 506.41,388.30 506.76,388.25 507.12,388.20 507.48,388.16 507.83,388.12 508.19,388.08 508.54,388.04 508.90,388.00 509.25,387.96 509.61,387.93 509.96,387.89 510.32,387.87 510.68,387.85 511.03,387.85 511.39,387.89 511.74,388.02 512.10,388.41 512.45,389.22 512.81,389.08 513.17,388.23 513.52,387.79 513.88,387.58 514.23,387.45 514.59,387.35 514.94,387.28 515.30,387.21 515.66,387.15 516.01,387.09 516.37,387.03 516.72,386.98 517.08,386.93 517.43,386.88 517.79,386.83 518.15,386.79 518.50,386.76 518.86,386.75 519.21,386.77 519.57,386.85 519.92,387.10 520.28,387.77 520.64,389.14 520.99,388.84 521.35,387.46 521.70,386.77 522.06,386.44 522.41,386.25 522.77,386.11 523.13,386.00 523.48,385.91 523.84,385.83 524.19,385.75 524.55,385.68 524.90,385.62 525.26,385.55 525.61,385.49 525.97,385.44 526.33,385.40 526.68,385.37 527.04,385.36 527.39,385.41 527.75,385.55 528.10,385.95 528.46,386.99 528.82,389.05 529.17,388.51 529.53,386.48 529.88,385.50 530.24,385.03 530.59,384.76 530.95,384.57 531.31,384.43 531.66,384.32 532.02,384.21 532.37,384.12 532.73,384.03 533.08,383.95 533.44,383.88 533.80,383.81 534.15,383.75 534.51,383.70 534.86,383.68 535.22,383.69 535.57,383.77 535.93,383.99 536.29,384.57 536.64,386.08 537.00,388.96 537.35,388.08 537.71,385.29 538.06,383.96 538.42,383.33 538.78,382.98 539.13,382.74 539.49,382.57 539.84,382.42 540.20,382.29 540.55,382.18 540.91,382.08 541.27,381.98 541.62,381.90 541.98,381.82 542.33,381.75 542.69,381.71 543.04,381.69 543.40,381.72 543.75,381.84 544.11,382.16 544.47,382.97 544.82,385.04 545.18,388.89 545.53,387.55 545.89,383.88 546.24,382.17 546.60,381.36 546.96,380.91 547.31,380.62 547.67,380.40 548.02,380.22 548.38,380.07 548.73,379.94 549.09,379.82 549.45,379.71 549.80,379.62 550.16,379.53 550.51,379.46 550.87,379.42 551.22,379.41 551.58,379.46 551.94,379.64 552.29,380.08 552.65,381.15 553.00,383.89 553.36,388.83 553.71,386.90 554.07,382.26 554.43,380.11 554.78,379.11 555.14,378.56 555.49,378.20 555.85,377.93 556.20,377.73 556.56,377.55 556.92,377.40 557.27,377.26 557.63,377.14 557.98,377.03 558.34,376.94 558.69,376.87 559.05,376.83 559.40,376.83 559.76,376.92 560.12,377.16 560.47,377.73 560.83,379.11 561.18,382.62 561.54,388.78 561.89,386.11 562.25,380.40 562.61,377.79 562.96,376.58 563.32,375.91 563.67,375.48 564.03,375.17 564.38,374.93 564.74,374.73 565.10,374.55 565.45,374.40 565.81,374.26 566.16,374.15 566.52,374.05 566.87,373.97 567.23,373.94 567.59,373.96 567.94,374.08 568.30,374.40 568.65,375.13 569.01,376.87 569.36,381.26 569.72,388.76 570.08,385.19 570.43,378.32 570.79,375.20 571.14,373.76 571.50,372.97 571.85,372.47 572.21,372.11 572.57,371.83 572.92,371.60 573.28,371.41 573.63,371.24 573.99,371.09 574.34,370.96 574.70,370.85 575.05,370.78 575.41,370.75 575.77,370.79 576.12,370.96 576.48,371.36 576.83,372.27 577.19,374.42 577.54,379.82 577.90,388.76 578.26,384.11 578.61,375.99 578.97,372.35 579.32,370.66 579.68,369.74 580.03,369.16 580.39,368.75 580.75,368.43 581.10,368.18 581.46,367.96 581.81,367.77 582.17,367.61 582.52,367.47 582.88,367.36 583.24,367.29 583.59,367.27 583.95,367.34 584.30,367.55 584.66,368.05 585.01,369.16 585.37,371.77 585.73,378.29 586.08,388.78 586.44,382.88 586.79,373.43 587.15,369.22 587.50,367.28 587.86,366.22 588.22,365.56 588.57,365.09 588.93,364.73 589.28,364.45 589.64,364.21 589.99,364.00 590.35,363.82 590.71,363.68 591.06,363.56 591.42,363.49 591.77,363.49 592.13,363.58 592.48,363.86 592.84,364.46 593.19,365.80 593.55,368.92 593.91,376.70 594.26,388.82 594.62,381.47 594.97,370.62 595.33,365.82 595.68,363.61 596.04,362.41 596.40,361.66 596.75,361.13 597.11,360.73 597.46,360.42 597.82,360.15 598.17,359.93 598.53,359.74 598.89,359.58 599.24,359.46 599.60,359.40 599.95,359.41 600.31,359.54 600.66,359.87 601.02,360.60 601.38,362.19 601.73,365.88 602.09,375.05 602.44,388.89 602.80,379.88 603.15,367.57 603.51,362.15 603.87,359.66 604.22,358.30 604.58,357.46 604.93,356.87 605.29,356.43 605.64,356.08 606.00,355.79 606.36,355.55 606.71,355.35 607.07,355.18 607.42,355.07 607.78,355.01 608.13,355.04 608.49,355.20 608.84,355.61 609.20,356.47 609.56,358.33 609.91,362.65 610.27,373.36 610.62,388.96 610.98,378.10 611.33,364.26 611.69,358.21 612.05,355.42 612.40,353.90 612.76,352.96 613.11,352.32 613.47,351.83 613.82,351.45 614.18,351.13 614.54,350.87 614.89,350.66 615.25,350.49 615.60,350.37 615.96,350.32 616.31,350.36 616.67,350.57 617.03,351.05 617.38,352.06 617.74,354.22 618.09,359.23 618.45,371.63 618.80,389.05 619.16,376.11 619.52,360.70 619.87,353.99 620.23,350.89 620.58,349.21 620.94,348.17 621.29,347.46 621.65,346.93 622.01,346.51 622.36,346.17 622.72,345.89 623.07,345.66 623.43,345.48 623.78,345.37 624.14,345.33 624.49,345.40 624.85,345.65 625.21,346.21 625.56,347.38 625.92,349.87 626.27,355.65 626.63,369.88 626.98,389.15 627.34,373.92 627.70,356.87 628.05,349.49 628.41,346.07 628.76,344.23 629.12,343.08 629.47,342.30 629.83,341.72 630.19,341.27 630.54,340.91 630.90,340.61 631.25,340.37 631.61,340.18 631.96,340.07 632.32,340.04 632.68,340.13 633.03,340.43 633.39,341.09 633.74,342.44 634.10,345.28 634.45,351.89 634.81,368.12 635.17,389.24 635.52,371.51 635.88,352.79 636.23,344.71 636.59,340.97 636.94,338.95 637.30,337.70 637.66,336.84 638.01,336.22 638.37,335.73 638.72,335.34 639.08,335.02 639.43,334.77 639.79,334.58 640.15,334.46 640.50,334.45 640.86,334.57 641.21,334.93 641.57,335.68 641.92,337.22 642.28,340.46 642.63,347.96 642.99,366.36 643.35,389.32 643.70,368.88 644.06,348.44 644.41,339.65 644.77,335.57 645.12,333.37 645.48,332.01 645.84,331.09 646.19,330.41 646.55,329.89 646.90,329.47 647.26,329.13 647.61,328.87 647.97,328.67 648.33,328.56 648.68,328.56 649.04,328.72 649.39,329.13 649.75,330.00 650.10,331.73 650.46,335.39 650.82,343.88 651.17,364.61 651.53,389.37 651.88,366.00 652.24,343.81 652.59,334.31 652.95,329.89 653.31,327.50 653.66,326.03 654.02,325.03 654.37,324.30 654.73,323.74 655.08,323.29 655.44,322.94 655.80,322.66 656.15,322.46 656.51,322.36 656.86,322.37 657.22,322.57 657.57,323.04 657.93,324.02 658.28,325.98 658.64,330.10 659.00,339.64 659.35,362.89 659.71,389.40 660.06,362.89 660.42,338.92 660.77,328.68 661.13,323.92 661.49,321.33 661.84,319.75 662.20,318.67 662.55,317.89 662.91,317.29 663.26,316.82 663.62,316.44 663.98,316.15 664.33,315.95 664.69,315.85 665.04,315.89 665.40,316.12 665.75,316.67 666.11,317.77 666.47,319.97 666.82,324.57 667.18,335.25 667.53,361.20 667.89,389.38 668.24,359.53 668.60,333.76 668.96,322.77 669.31,317.65 669.67,314.87 670.02,313.17 670.38,312.01 670.73,311.18 671.09,310.54 671.45,310.04 671.80,309.65 672.16,309.35 672.51,309.14 672.87,309.05 673.22,309.10 673.58,309.38 673.93,310.00 674.29,311.24 674.65,313.69 675.00,318.82 675.36,330.73 675.71,359.56 676.07,389.31 676.42,355.91 676.78,328.31 677.14,316.58 677.49,311.09 677.85,308.11 678.20,306.29 678.56,305.05 678.91,304.16 679.27,303.48 679.63,302.96 679.98,302.54 680.34,302.23 680.69,302.03 681.05,301.94 681.40,302.02 681.76,302.34 682.12,303.04 682.47,304.42 682.83,307.14 683.18,312.84 683.54,326.07 683.89,357.98 684.25,389.16 684.61,352.03 684.96,322.59 685.32,310.09 685.67,304.24 686.03,301.06 686.38,299.11 686.74,297.79 687.10,296.85 687.45,296.13 687.81,295.57 688.16,295.14 688.52,294.82 688.87,294.61 689.23,294.54 689.58,294.64 689.94,295.01 690.30,295.79 690.65,297.33 691.01,300.34 691.36,306.63 691.72,321.29 692.07,356.47 692.43,388.93 692.79,347.87 693.14,316.59 693.50,303.32 693.85,297.09 694.21,293.71 694.56,291.63 694.92,290.23 695.28,289.23 695.63,288.47 695.99,287.88 696.34,287.43 696.70,287.10 697.05,286.90 697.41,286.84 697.77,286.97 698.12,287.38 698.48,288.26 698.83,289.95 699.19,293.27 699.54,300.21 699.90,316.38 700.26,355.05 700.61,388.60 700.97,343.44 701.32,310.30 701.68,296.26 702.03,289.66 702.39,286.06 702.75,283.85 703.10,282.37 703.46,281.31 703.81,280.51 704.17,279.89 704.52,279.43 704.88,279.09 705.24,278.88 705.59,278.83 705.95,278.99 706.30,279.46 706.66,280.43 707.01,282.30 707.37,285.95 707.72,293.57 708.08,311.37 708.44,353.71 708.79,388.15 709.15,338.74 709.50,303.73 709.86,288.91 710.21,281.92 710.57,278.11 710.93,275.77 711.28,274.21 711.64,273.08 711.99,272.24 712.35,271.60 712.70,271.11 713.06,270.77 713.42,270.56 713.77,270.53 714.13,270.72 714.48,271.25 714.84,272.32 715.19,274.37 715.55,278.37 715.91,286.72 716.26,306.26 716.62,352.49 716.97,387.56 717.33,333.74 717.68,296.87 718.04,281.27 718.40,273.89 718.75,269.87 719.11,267.40 719.46,265.74 719.82,264.56 720.17,263.68 720.53,263.00 720.89,262.50 721.24,262.14 721.60,261.94 721.95,261.92 722.31,262.15 722.66,262.74 723.02,263.92 723.37,266.17 723.73,270.53 724.09,279.66 724.44,301.05 724.80,351.38 725.15,386.83 725.51,328.45 725.86,289.71 726.22,273.33 726.58,265.57 726.93,261.32 727.29,258.72 727.64,256.97 728.00,255.73 728.35,254.80 728.71,254.10 729.07,253.58 729.42,253.22 729.78,253.02 730.13,253.02 730.49,253.28 730.84,253.93 731.20,255.23 731.56,257.69 731.91,262.44 732.27,272.40 732.62,295.75 732.98,350.40 733.33,385.93 733.69,322.87 734.05,282.27 734.40,265.11 734.76,256.95 735.11,252.48 735.47,249.74 735.82,247.91 736.18,246.60 736.54,245.63 736.89,244.90 737.25,244.36 737.60,243.99 737.96,243.80 738.31,243.81 738.67,244.11 739.02,244.84 739.38,246.26 739.74,248.93 740.09,254.10 740.45,264.93 740.80,290.38 741.16,349.56 741.51,384.84 741.87,316.99 742.23,274.54 742.58,256.59 742.94,248.03 743.29,243.34 743.65,240.46 744.00,238.54 744.36,237.17 744.72,236.16 745.07,235.40 745.43,234.84 745.78,234.46 746.14,234.27 746.49,234.31 746.85,234.65 747.21,235.45 747.56,237.00 747.92,239.90 748.27,245.50 748.63,257.26 748.98,284.94 749.34,348.86 749.70,383.54 750.05,310.80 750.41,266.51 750.76,247.77 751.12,238.82 751.47,233.90 751.83,230.88 752.19,228.86 752.54,227.43 752.90,226.38 753.25,225.59 753.61,225.01 753.96,224.63 754.32,224.45 754.68,224.51 755.03,224.89 755.39,225.77 755.74,227.45 756.10,230.59 756.45,236.66 756.81,249.40 757.16,279.45 757.52,348.31 757.88,382.03 758.23,304.31 758.59,258.18 758.94,238.66 759.30,229.31 759.65,224.16 760.01,221.00 760.37,218.89 760.72,217.39 761.08,216.29 761.43,215.48 761.79,214.88 762.14,214.50 762.50,214.32 762.86,214.40 763.21,214.84 763.57,215.80 763.92,217.62 764.28,221.01 764.63,227.56 764.99,241.35 765.35,273.90 765.70,347.93 766.06,380.28 766.41,297.50 766.77,249.56 767.12,229.25 767.48,219.50 767.84,214.13 768.19,210.82 768.55,208.61 768.90,207.05 769.26,205.91 769.61,205.06 769.97,204.45 770.33,204.06 770.68,203.89 771.04,204.00 771.39,204.49 771.75,205.53 772.10,207.51 772.46,211.16 772.81,218.23 773.17,233.11 773.53,268.32 773.88,347.72 774.24,378.27 774.59,290.38 774.95,240.63 775.30,219.55 775.66,209.40 776.02,203.79 776.37,200.34 776.73,198.04 777.08,196.41 777.44,195.22 777.79,194.35 778.15,193.72 778.51,193.32 778.86,193.17 779.22,193.30 779.57,193.84 779.93,194.97 780.28,197.11 780.64,201.04 781.00,208.65 781.35,224.69 781.71,262.72 782.06,347.68 782.42,375.99 782.77,282.94 783.13,231.41 783.49,209.54 783.84,198.99 784.20,193.15 784.55,189.55 784.91,187.15 785.26,185.46 785.62,184.23 785.98,183.33 786.33,182.68 786.69,182.28 787.04,182.14 787.40,182.30 787.75,182.89 788.11,184.13 788.46,186.42 788.82,190.65 789.18,198.82 789.53,216.09 789.89,257.09 790.24,347.82 790.60,373.42 790.95,275.17 791.31,221.89 791.67,199.24 792.02,188.29 792.38,182.21 792.73,178.47 793.09,175.97 793.44,174.21 793.80,172.94 794.16,172.00 794.51,171.34 794.87,170.94 795.22,170.81 795.58,171.00 795.93,171.65 796.29,172.99 796.65,175.45 797.00,179.99 797.36,188.76 797.71,207.32 798.07,251.47 798.42,348.14 798.78,370.54 799.14,267.09 799.49,212.06 799.85,188.65 800.20,177.28 800.56,170.97 800.91,167.08 801.27,164.49 801.63,162.66 801.98,161.34 802.34,160.38 802.69,159.70 803.05,159.30 803.40,159.18 803.76,159.41 804.12,160.12 804.47,161.56 804.83,164.20 805.18,169.07 805.54,178.46 805.89,198.38 806.25,245.85 806.60,348.64 806.96,367.35 807.32,258.68 807.67,201.93 808.03,177.75 808.38,165.98 808.74,159.43 809.09,155.39 809.45,152.70 809.81,150.81 810.16,149.44 810.52,148.45 810.87,147.76"/>
<polyline stroke="#ff0000" stroke-linecap="square" points="484.00,389.40 484.36,389.40 484.71,389.40 485.07,389.40 485.42,389.39 485.78,389.39 486.13,389.38 486.49,389.38 486.85,389.37 487.20,389.37 487.56,389.37 487.91,389.39 488.27,389.39 488.62,389.35 488.98,389.33 489.34,389.31 489.69,389.29 490.05,389.28 490.40,389.26 490.76,389.24 491.11,389.23 491.47,389.21 491.83,389.19 492.18,389.17 492.54,389.15 492.89,389.13 493.25,389.11 493.60,389.09 493.96,389.06 494.31,389.04 494.67,389.02 495.03,389.01 495.38,389.02 495.74,389.08 496.09,389.32 496.45,389.29 496.80,389.01 497.16,388.89 497.52,388.82 497.87,388.77 498.23,388.72 498.58,388.68 498.94,388.64 499.29,388.60 499.65,388.56 500.01,388.52 500.36,388.48 500.72,388.44 501.07,388.40 501.43,388.36 501.78,388.32 502.14,388.29 502.50,388.25 502.85,388.23 503.21,388.23 503.56,388.28 503.92,388.50 504.27,389.19 504.63,389.08 504.99,388.35 505.34,388.05 505.70,387.89 506.05,387.79 506.41,387.72 506.76,387.64 507.12,387.58 507.48,387.52 507.83,387.45 508.19,387.39 508.54,387.33 508.90,387.27 509.25,387.22 509.61,387.16 509.96,387.10 510.32,387.06 510.68,387.02 511.03,387.00 511.39,387.02 511.74,387.15 512.10,387.63 512.45,389.01 512.81,388.73 513.17,387.35 513.52,386.80 513.88,386.54 514.23,386.38 514.59,386.26 514.94,386.16 515.30,386.06 515.66,385.97 516.01,385.89 516.37,385.81 516.72,385.73 517.08,385.65 517.43,385.57 517.79,385.50 518.15,385.43 518.50,385.37 518.86,385.33 519.21,385.32 519.57,385.39 519.92,385.64 520.28,386.48 520.64,388.82 520.99,388.22 521.35,386.01 521.70,385.15 522.06,384.76 522.41,384.52 522.77,384.35 523.13,384.21 523.48,384.09 523.84,383.97 524.19,383.87 524.55,383.76 524.90,383.66 525.26,383.56 525.61,383.47 525.97,383.38 526.33,383.30 526.68,383.24 527.04,383.20 527.39,383.21 527.75,383.33 528.10,383.75 528.46,385.07 528.82,388.62 529.17,387.54 529.53,384.32 529.88,383.09 530.24,382.54 530.59,382.22 530.95,382.00 531.31,381.82 531.66,381.66 532.02,381.52 532.37,381.38 532.73,381.26 533.08,381.13 533.44,381.02 533.80,380.91 534.15,380.81 534.51,380.72 534.86,380.65 535.22,380.62 535.57,380.66 535.93,380.86 536.29,381.48 536.64,383.40 537.00,388.43 537.35,386.66 537.71,382.27 538.06,380.62 538.42,379.89 538.78,379.48 539.13,379.19 539.49,378.97 539.84,378.77 540.20,378.60 540.55,378.44 540.91,378.29 541.27,378.15 541.62,378.01 541.98,377.89 542.33,377.78 542.69,377.68 543.04,377.61 543.40,377.60 543.75,377.68 544.11,377.98 544.47,378.84 544.82,381.50 545.18,388.25 545.53,385.57 545.89,379.85 546.24,377.73 546.60,376.81 546.96,376.29 547.31,375.93 547.67,375.66 548.02,375.43 548.38,375.23 548.73,375.04 549.09,374.87 549.45,374.70 549.80,374.55 550.16,374.41 550.51,374.29 550.87,374.19 551.22,374.12 551.58,374.13 551.94,374.26 552.29,374.68 552.65,375.84 553.00,379.37 553.36,388.11 553.71,384.25 554.07,377.07 554.43,374.43 554.78,373.28 555.14,372.65 555.49,372.22 555.85,371.90 556.20,371.63 556.56,371.40 556.92,371.18 557.27,370.98 557.63,370.80 557.98,370.63 558.34,370.48 558.69,370.34 559.05,370.24 559.40,370.18 559.76,370.21 560.12,370.40 560.47,370.96 560.83,372.47 561.18,377.03 561.54,388.01 561.89,382.67 562.25,373.90 562.61,370.71 562.96,369.33 563.32,368.56 563.67,368.06 564.03,367.68 564.38,367.37 564.74,367.10 565.10,366.86 565.45,366.64 565.81,366.44 566.16,366.25 566.52,366.08 566.87,365.94 567.23,365.84 567.59,365.79 567.94,365.85 568.30,366.12 568.65,366.83 569.01,368.75 569.36,374.49 569.72,387.96 570.08,380.83 570.43,370.36 570.79,366.57 571.14,364.93 571.50,364.03 571.85,363.45 572.21,363.01 572.57,362.66 572.92,362.36 573.28,362.09 573.63,361.84 573.99,361.62 574.34,361.41 574.70,361.23 575.05,361.08 575.41,360.98 575.77,360.95 576.12,361.05 576.48,361.39 576.83,362.30 577.19,364.68 577.54,371.77 577.90,387.95 578.26,378.70 578.61,366.42 578.97,362.00 579.32,360.09 579.68,359.05 580.03,358.38 580.39,357.89 580.75,357.49 581.10,357.15 581.46,356.85 581.81,356.58 582.17,356.34 582.52,356.12 582.88,355.92 583.24,355.77 583.59,355.67 583.95,355.66 584.30,355.80 584.66,356.24 585.01,357.35 585.37,360.26 585.73,368.88 586.08,388.00 586.44,376.26 586.79,362.09 587.15,357.01 587.50,354.82 587.86,353.63 588.22,352.86 588.57,352.31 588.93,351.86 589.28,351.48 589.64,351.15 589.99,350.86 590.35,350.60 590.71,350.36 591.06,350.16 591.42,350.00 591.77,349.91 592.13,349.92 592.48,350.11 592.84,350.66 593.19,352.01 593.55,355.50 593.91,365.85 594.26,388.09 594.62,373.51 594.97,357.37 595.33,351.59 595.68,349.10 596.04,347.75 596.40,346.89 596.75,346.27 597.11,345.77 597.46,345.36 597.82,345.00 598.17,344.68 598.53,344.40 598.89,344.14 599.24,343.93 599.60,343.77 599.95,343.69 600.31,343.73 600.66,343.98 601.02,344.64 601.38,346.26 601.73,350.40 602.09,362.68 602.44,388.23 602.80,370.43 603.15,352.23 603.51,345.74 603.87,342.94 604.22,341.43 604.58,340.47 604.93,339.77 605.29,339.23 605.64,338.78 606.00,338.39 606.36,338.04 606.71,337.74 607.07,337.47 607.42,337.25 607.78,337.09 608.13,337.02 608.49,337.09 608.84,337.40 609.20,338.20 609.56,340.10 609.91,344.98 610.27,359.40 610.62,388.40 610.98,366.99 611.33,346.69 611.69,339.46 612.05,336.34 612.40,334.65 612.76,333.59 613.11,332.83 613.47,332.23 613.82,331.74 614.18,331.31 614.54,330.94 614.89,330.62 615.25,330.34 615.60,330.11 615.96,329.95 616.31,329.89 616.67,330.00 617.03,330.38 617.38,331.33 617.74,333.56 618.09,339.23 618.45,356.03 618.80,388.60 619.16,363.20 619.52,340.74 619.87,332.75 620.23,329.29 620.58,327.43 620.94,326.26 621.29,325.42 621.65,324.77 622.01,324.24 622.36,323.78 622.72,323.39 623.07,323.04 623.43,322.75 623.78,322.52 624.14,322.36 624.49,322.32 624.85,322.46 625.21,322.92 625.56,324.04 625.92,326.61 626.27,333.17 626.63,352.58 626.98,388.82 627.34,359.03 627.70,334.37 628.05,325.60 628.41,321.80 628.76,319.76 629.12,318.47 629.47,317.56 629.83,316.85 630.19,316.28 630.54,315.79 630.90,315.37 631.25,315.01 631.61,314.70 631.96,314.46 632.32,314.31 632.68,314.29 633.03,314.47 633.39,315.03 633.74,316.31 634.10,319.27 634.45,326.80 634.81,349.08 635.17,389.02 635.52,354.48 635.88,327.59 636.23,318.02 636.59,313.86 636.94,311.63 637.30,310.23 637.66,309.24 638.01,308.48 638.37,307.86 638.72,307.34 639.08,306.90 639.43,306.51 639.79,306.19 640.15,305.95 640.50,305.80 640.86,305.80 641.21,306.04 641.57,306.69 641.92,308.17 642.28,311.54 642.63,320.13 642.99,345.54 643.35,389.21 643.70,349.53 644.06,320.37 644.41,310.00 644.77,305.48 645.12,303.05 645.48,301.53 645.84,300.46 646.19,299.65 646.55,298.99 646.90,298.43 647.26,297.96 647.61,297.56 647.97,297.23 648.33,296.98 648.68,296.84 649.04,296.87 649.39,297.16 649.75,297.91 650.10,299.60 650.46,303.43 650.82,313.16 651.17,342.00 651.53,389.34 651.88,344.17 652.24,312.74 652.59,301.55 652.95,296.65 653.31,294.03 653.66,292.38 654.02,291.23 654.37,290.36 654.73,289.65 655.08,289.06 655.44,288.57 655.80,288.15 656.15,287.80 656.51,287.56 656.86,287.43 657.22,287.48 657.57,287.83 657.93,288.70 658.28,290.61 658.64,294.93 659.00,305.91 659.35,338.46 659.71,389.40 660.06,338.39 660.42,304.67 660.77,292.65 661.13,287.38 661.49,284.55 661.84,282.78 662.20,281.54 662.55,280.61 662.91,279.86 663.26,279.24 663.62,278.71 663.98,278.27 664.33,277.92 664.69,277.67 665.04,277.56 665.40,277.64 665.75,278.05 666.11,279.04 666.47,281.20 666.82,286.04 667.18,298.38 667.53,334.95 667.89,389.36 668.24,332.19 668.60,296.17 668.96,283.31 669.31,277.65 669.67,274.61 670.02,272.72 670.38,271.40 670.73,270.40 671.09,269.60 671.45,268.95 671.80,268.40 672.16,267.94 672.51,267.58 672.87,267.33 673.22,267.23 673.58,267.35 673.93,267.83 674.29,268.95 674.65,271.37 675.00,276.78 675.36,290.59 675.71,331.51 676.07,389.19 676.42,325.56 676.78,287.23 677.14,273.53 677.49,267.48 677.85,264.23 678.20,262.20 678.56,260.79 678.91,259.73 679.27,258.89 679.63,258.20 679.98,257.63 680.34,257.15 680.69,256.78 681.05,256.54 681.40,256.45 681.76,256.61 682.12,257.16 682.47,258.43 682.83,261.12 683.18,267.14 683.54,282.54 683.89,328.14 684.25,388.85 684.61,318.48 684.96,277.86 685.32,263.30 685.67,256.86 686.03,253.39 686.38,251.23 686.74,249.73 687.10,248.61 687.45,247.72 687.81,247.00 688.16,246.39 688.52,245.90 688.87,245.53 689.23,245.28 689.58,245.22 689.94,245.42 690.30,246.05 690.65,247.46 691.01,250.45 691.36,257.14 691.72,274.23 692.07,324.88 692.43,388.32 692.79,310.96 693.14,268.04 693.50,252.63 693.85,245.79 694.21,242.10 694.56,239.80 694.92,238.21 695.28,237.03 695.63,236.09 695.99,235.33 696.34,234.70 696.70,234.20 697.05,233.81 697.41,233.57 697.77,233.53 698.12,233.77 698.48,234.49 698.83,236.07 699.19,239.37 699.54,246.76 699.90,265.69 700.26,321.74 700.61,387.56 700.97,302.97 701.32,257.78 701.68,241.51 702.03,234.26 702.39,230.35 702.75,227.92 703.10,226.24 703.46,224.99 703.81,224.00 704.17,223.20 704.52,222.55 704.88,222.03 705.24,221.64 705.59,221.41 705.95,221.39 706.30,221.68 706.66,222.49 707.01,224.23 707.37,227.88 707.72,236.02 708.08,256.92 708.44,318.76 708.79,386.54 709.15,294.53 709.50,247.08 709.86,229.95 710.21,222.29 710.57,218.15 710.93,215.58 711.28,213.80 711.64,212.48 711.99,211.45 712.35,210.62 712.70,209.94 713.06,209.40 713.42,209.01 713.77,208.78 714.13,208.79 714.48,209.13 714.84,210.04 715.19,211.97 715.55,215.98 715.91,224.91 716.26,247.94 716.62,315.96 716.97,385.21 717.33,285.62 717.68,235.93 718.04,217.94 718.40,209.87 718.75,205.50 719.11,202.78 719.46,200.91 719.82,199.53 720.17,198.44 720.53,197.58 720.89,196.87 721.24,196.32 721.60,195.92 721.95,195.71 722.31,195.74 722.66,196.14 723.02,197.15 723.37,199.27 723.73,203.66 724.09,213.45 724.44,238.74 724.80,313.36 725.15,383.55 725.51,276.23 725.86,224.32 726.22,205.48 726.58,196.99 726.93,192.39 727.29,189.53 727.64,187.56 728.00,186.11 728.35,184.98 728.71,184.07 729.07,183.35 729.42,182.78 729.78,182.38 730.13,182.17 730.49,182.23 730.84,182.69 731.20,183.81 731.56,186.14 731.91,190.94 732.27,201.64 732.62,229.36 732.98,310.98 733.33,381.51 733.69,266.37 734.05,212.27 734.40,192.57 734.76,183.66 735.11,178.82 735.47,175.82 735.82,173.75 736.18,172.23 736.54,171.05 736.89,170.11 737.25,169.36 737.60,168.78 737.96,168.37 738.31,168.18 738.67,168.27 739.02,168.80 739.38,170.04 739.74,172.58 740.09,177.81 740.45,189.47 740.80,219.79 741.16,308.86 741.51,379.07 741.87,256.02 742.23,199.77 742.58,179.20 742.94,169.88 743.29,164.80 743.65,161.65 744.00,159.49 744.36,157.89 744.72,156.66 745.07,155.69 745.43,154.91 745.78,154.32 746.14,153.91 746.49,153.73 746.85,153.86 747.21,154.45 747.56,155.82 747.92,158.59 748.27,164.28 748.63,176.96 748.98,210.05 749.34,307.00 749.70,376.19 750.05,245.19 750.41,186.81 750.76,165.39 751.12,155.64 751.47,150.33 751.83,147.02 752.19,144.76 752.54,143.10 752.90,141.82 753.25,140.81 753.61,140.01 753.96,139.40 754.32,138.99 754.68,138.83 755.03,138.99 755.39,139.66 755.74,141.15 756.10,144.17 756.45,150.34 756.81,164.12 757.16,200.16 757.52,305.45 757.88,372.83 758.23,233.87 758.59,173.39 758.94,151.12 759.30,140.95 759.65,135.40 760.01,131.94 760.37,129.58 760.72,127.85 761.08,126.51 761.43,125.46 761.79,124.64 762.14,124.02 762.50,123.61 762.86,123.47 763.21,123.67 763.57,124.42 763.92,126.05 764.28,129.32 764.63,136.00 764.99,150.93 765.35,190.13 765.70,304.21 766.06,368.96 766.41,222.06 766.77,159.52 767.12,136.40 767.48,125.80 767.84,120.01 768.19,116.40 768.55,113.94 768.90,112.13 769.26,110.75 769.61,109.66 769.97,108.81 770.33,108.18 770.68,107.78 771.04,107.65 771.39,107.90 771.75,108.72 772.10,110.50 772.46,114.05 772.81,121.26 773.17,137.42 773.53,179.98 773.88,303.30 774.24,364.56 774.59,209.75 774.95,145.19 775.30,121.23 775.66,110.20 776.02,104.16 776.37,100.41 776.73,97.84 777.08,95.96 777.44,94.52 777.79,93.40 778.15,92.53 778.51,91.89 778.86,91.49 779.22,91.38 779.57,91.68 779.93,92.59 780.28,94.52 780.64,98.34 781.00,106.13 781.35,123.58 781.71,169.71 782.06,302.75 782.42,359.59 782.77,196.94 783.13,130.40 783.49,105.60 783.84,94.15 784.20,87.86 784.55,83.95 784.91,81.28 785.26,79.33 785.62,77.84 785.98,76.68 786.33,75.79 786.69,75.14 787.04,74.74 787.40,74.66 787.75,75.00 788.11,76.00 788.46,78.09 788.82,82.22 789.18,90.60 789.53,109.42 789.89,159.35 790.24,302.57 790.60,354.02 790.95,183.64 791.31,115.14 791.67,89.52 792.02,77.64 792.38,71.10 792.73,67.04 793.09,64.26 793.44,62.23 793.80,60.70 794.16,59.50 794.51,58.59 794.87,57.92 795.22,57.53 795.58,57.47 795.93,57.87 796.29,58.96 796.65,61.23 797.00,65.67 797.36,74.68 797.71,94.94 798.07,148.92 798.42,302.77 798.78,347.85 799.14,169.83 799.49,99.43 799.85,72.97 800.20,60.67 800.56,53.89 800.91,49.66 801.27,46.78 801.63,44.68 801.98,43.09 802.34,41.86 802.69,40.92 803.05,40.25 803.40,39.87 803.76,39.84 804.12,40.29 804.47,41.48 804.83,43.92 805.18,48.69 805.54,58.36 805.89,80.16 806.25,138.43 806.60,303.37 806.96,341.03 807.32,155.52 807.67,83.25 808.03,55.98 808.38,43.25 808.74,36.22 809.09,31.83 809.45,28.84 809.81,26.67 810.16,25.03 810.52,23.76 810.87,22.80"/>
<polyline stroke="#000" stroke-dasharray="7.4 3.2" points="484.00,389.40 484.54,389.40 485.07,389.40 485.61,389.39 486.14,389.38 486.68,389.38 487.21,389.36 487.75,389.35 488.28,389.34 488.82,389.32 489.35,389.30 489.89,389.28 490.42,389.26 490.96,389.23 491.49,389.21 492.03,389.18 492.56,389.15 493.10,389.12 493.63,389.08 494.17,389.05 494.70,389.01 495.24,388.97 495.77,388.92 496.31,388.88 496.84,388.83 497.38,388.79 497.91,388.74 498.45,388.68 498.98,388.63 499.52,388.57 500.05,388.52 500.59,388.46 501.12,388.39 501.66,388.33 502.19,388.26 502.73,388.20 503.26,388.13 503.80,388.06 504.33,387.98 504.87,387.91 505.40,387.83 505.94,387.75 506.47,387.67 507.01,387.58 507.54,387.50 508.08,387.41 508.61,387.32 509.15,387.23 509.68,387.14 510.22,387.04 510.76,386.94 511.29,386.84 511.83,386.74 512.36,386.64 512.90,386.54 513.43,386.43 513.97,386.32 514.50,386.21 515.04,386.10 515.57,385.98 516.11,385.86 516.64,385.74 517.18,385.62 517.71,385.50 518.25,385.38 518.78,385.25 519.32,385.12 519.85,384.99 520.39,384.86 520.92,384.72 521.46,384.59 521.99,384.45 522.53,384.31 523.06,384.16 523.60,384.02 524.13,383.87 524.67,383.73 525.20,383.58 525.74,383.42 526.27,383.27 526.81,383.11 527.34,382.95 527.88,382.79 528.41,382.63 528.95,382.47 529.48,382.30 530.02,382.13 530.55,381.96 531.09,381.79 531.62,381.62 532.16,381.44 532.69,381.26 533.23,381.08 533.76,380.90 534.30,380.72 534.83,380.53 535.37,380.35 535.90,380.16 536.44,379.96 536.97,379.77 537.51,379.58 538.05,379.38 538.58,379.18 539.12,378.98 539.65,378.77 540.19,378.57 540.72,378.36 541.26,378.15 541.79,377.94 542.33,377.73 542.86,377.51 543.40,377.30 543.93,377.08 544.47,376.86 545.00,376.63 545.54,376.41 546.07,376.18 546.61,375.95 547.14,375.72 547.68,375.49 548.21,375.25 548.75,375.02 549.28,374.78 549.82,374.54 550.35,374.29 550.89,374.05 551.42,373.80 551.96,373.55 552.49,373.30 553.03,373.05 553.56,372.80 554.10,372.54 554.63,372.28 555.17,372.02 555.70,371.76 556.24,371.50 556.77,371.23 557.31,370.96 557.84,370.69 558.38,370.42 558.91,370.14 559.45,369.87 559.98,369.59 560.52,369.31 561.05,369.03 561.59,368.74 562.12,368.46 562.66,368.17 563.19,367.88 563.73,367.59 564.27,367.30 564.80,367.00 565.34,366.70 565.87,366.40 566.41,366.10 566.94,365.80 567.48,365.49 568.01,365.18 568.55,364.87 569.08,364.56 569.62,364.25 570.15,363.93 570.69,363.62 571.22,363.30 571.76,362.98 572.29,362.65 572.83,362.33 573.36,362.00 573.90,361.67 574.43,361.34 574.97,361.01 575.50,360.67 576.04,360.34 576.57,360.00 577.11,359.66 577.64,359.31 578.18,358.97 578.71,358.62 579.25,358.27 579.78,357.92 580.32,357.57 580.85,357.21 581.39,356.86 581.92,356.50 582.46,356.14 582.99,355.78 583.53,355.41 584.06,355.05 584.60,354.68 585.13,354.31 585.67,353.93 586.20,353.56 586.74,353.18 587.27,352.81 587.81,352.43 588.34,352.04 588.88,351.66 589.41,351.27 589.95,350.88 590.49,350.49 591.02,350.10 591.56,349.71 592.09,349.31 592.63,348.91 593.16,348.52 593.70,348.11 594.23,347.71 594.77,347.30 595.30,346.90 595.84,346.49 596.37,346.07 596.91,345.66 597.44,345.25 597.98,344.83 598.51,344.41 599.05,343.99 599.58,343.56 600.12,343.14 600.65,342.71 601.19,342.28 601.72,341.85 602.26,341.42 602.79,340.98 603.33,340.54 603.86,340.11 604.40,339.66 604.93,339.22 605.47,338.78 606.00,338.33 606.54,337.88 607.07,337.43 607.61,336.98 608.14,336.52 608.68,336.06 609.21,335.61 609.75,335.15 610.28,334.68 610.82,334.22 611.35,333.75 611.89,333.28 612.42,332.81 612.96,332.34 613.49,331.86 614.03,331.39 614.56,330.91 615.10,330.43 615.63,329.95 616.17,329.46 616.71,328.98 617.24,328.49 617.78,328.00 618.31,327.51 618.85,327.01 619.38,326.52 619.92,326.02 620.45,325.52 620.99,325.02 621.52,324.51 622.06,324.01 622.59,323.50 623.13,322.99 623.66,322.48 624.20,321.96 624.73,321.45 625.27,320.93 625.80,320.41 626.34,319.89 626.87,319.36 627.41,318.84 627.94,318.31 628.48,317.78 629.01,317.25 629.55,316.72 630.08,316.18 630.62,315.64 631.15,315.10 631.69,314.56 632.22,314.02 632.76,313.47 633.29,312.93 633.83,312.38 634.36,311.83 634.90,311.27 635.43,310.72 635.97,310.16 636.50,309.60 637.04,309.04 637.57,308.48 638.11,307.91 638.64,307.35 639.18,306.78 639.71,306.21 640.25,305.63 640.78,305.06 641.32,304.48 641.85,303.90 642.39,303.32 642.92,302.74 643.46,302.16 644.00,301.57 644.53,300.98 645.07,300.39 645.60,299.80 646.14,299.20 646.67,298.61 647.21,298.01 647.74,297.41 648.28,296.81 648.81,296.20 649.35,295.60 649.88,294.99 650.42,294.38 650.95,293.77 651.49,293.15 652.02,292.54 652.56,291.92 653.09,291.30 653.63,290.68 654.16,290.05 654.70,289.43 655.23,288.80 655.77,288.17 656.30,287.54 656.84,286.90 657.37,286.27 657.91,285.63 658.44,284.99 658.98,284.35 659.51,283.71 660.05,283.06 660.58,282.41 661.12,281.76 661.65,281.11 662.19,280.46 662.72,279.80 663.26,279.15 663.79,278.49 664.33,277.83 664.86,277.16 665.40,276.50 665.93,275.83 666.47,275.16 667.00,274.49 667.54,273.82 668.07,273.14 668.61,272.47 669.14,271.79 669.68,271.11 670.22,270.42 670.75,269.74 671.29,269.05 671.82,268.36 672.36,267.67 672.89,266.98 673.43,266.29 673.96,265.59 674.50,264.89 675.03,264.19 675.57,263.49 676.10,262.78 676.64,262.08 677.17,261.37 677.71,260.66 678.24,259.95 678.78,259.23 679.31,258.52 679.85,257.80 680.38,257.08 680.92,256.36 681.45,255.63 681.99,254.90 682.52,254.18 683.06,253.45 683.59,252.72 684.13,251.98 684.66,251.25 685.20,250.51 685.73,249.77 686.27,249.03 686.80,248.28 687.34,247.54 687.87,246.79 688.41,246.04 688.94,245.29 689.48,244.53 690.01,243.78 690.55,243.02 691.08,242.26 691.62,241.50 692.15,240.74 692.69,239.97 693.22,239.20 693.76,238.44 694.29,237.66 694.83,236.89 695.36,236.12 695.90,235.34 696.44,234.56 696.97,233.78 697.51,233.00 698.04,232.21 698.58,231.42 699.11,230.63 699.65,229.84 700.18,229.05 700.72,228.26 701.25,227.46 701.79,226.66 702.32,225.86 702.86,225.06 703.39,224.25 703.93,223.45 704.46,222.64 705.00,221.83 705.53,221.01 706.07,220.20 706.60,219.38 707.14,218.57 707.67,217.75 708.21,216.92 708.74,216.10 709.28,215.27 709.81,214.44 710.35,213.61 710.88,212.78 711.42,211.95 711.95,211.11 712.49,210.27 713.02,209.43 713.56,208.59 714.09,207.75 714.63,206.90 715.16,206.05 715.70,205.20 716.23,204.35 716.77,203.50 717.30,202.64 717.84,201.79 718.37,200.93 718.91,200.06 719.44,199.20 719.98,198.34 720.51,197.47 721.05,196.60 721.58,195.73 722.12,194.85 722.66,193.98 723.19,193.10 723.73,192.22 724.26,191.34 724.80,190.46 725.33,189.57 725.87,188.69 726.40,187.80 726.94,186.90 727.47,186.01 728.01,185.12 728.54,184.22 729.08,183.32 729.61,182.42 730.15,181.52 730.68,180.61 731.22,179.71 731.75,178.80 732.29,177.89 732.82,176.97 733.36,176.06 733.89,175.14 734.43,174.22 734.96,173.30 735.50,172.38 736.03,171.46 736.57,170.53 737.10,169.60 737.64,168.67 738.17,167.74 738.71,166.80 739.24,165.87 739.78,164.93 740.31,163.99 740.85,163.05 741.38,162.10 741.92,161.16 742.45,160.21 742.99,159.26 743.52,158.31 744.06,157.35 744.59,156.40 745.13,155.44 745.66,154.48 746.20,153.52 746.73,152.55 747.27,151.59 747.80,150.62 748.34,149.65 748.87,148.68 749.41,147.71 749.95,146.73 750.48,145.75 751.02,144.77 751.55,143.79 752.09,142.81 752.62,141.82 753.16,140.84 753.69,139.85 754.23,138.86 754.76,137.86 755.30,136.87 755.83,135.87 756.37,134.87 756.90,133.87 757.44,132.87 757.97,131.86 758.51,130.85 759.04,129.85 759.58,128.83 760.11,127.82 760.65,126.81 761.18,125.79 761.72,124.77 762.25,123.75 762.79,122.73 763.32,121.70 763.86,120.68 764.39,119.65 764.93,118.62 765.46,117.58 766.00,116.55 766.53,115.51 767.07,114.48 767.60,113.43 768.14,112.39 768.67,111.35 769.21,110.30 769.74,109.25 770.28,108.20 770.81,107.15 771.35,106.10 771.88,105.04 772.42,103.98 772.95,102.92 773.49,101.86 774.02,100.80 774.56,99.73 775.09,98.66 775.63,97.59 776.17,96.52 776.70,95.45 777.24,94.37 777.77,93.29 778.31,92.21 778.84,91.13 779.38,90.05 779.91,88.96 780.45,87.88 780.98,86.79 781.52,85.69 782.05,84.60 782.59,83.51 783.12,82.41 783.66,81.31 784.19,80.21 784.73,79.10 785.26,78.00 785.80,76.89 786.33,75.78 786.87,74.67 787.40,73.56 787.94,72.44 788.47,71.33 789.01,70.21 789.54,69.09 790.08,67.96 790.61,66.84 791.15,65.71 791.68,64.58 792.22,63.45 792.75,62.32 793.29,61.18 793.82,60.05 794.36,58.91 794.89,57.77 795.43,56.63 795.96,55.48 796.50,54.34 797.03,53.19 797.57,52.04 798.10,50.88 798.64,49.73 799.17,48.57 799.71,47.42 800.24,46.25 800.78,45.09 801.31,43.93 801.85,42.76 802.39,41.59 802.92,40.42 803.46,39.25 803.99,38.08 804.53,36.90"/>
</g>
<rect x="484.0" y="10.0" width="326.90" height="379.40" stroke="#000" stroke-width="1.15" fill="none"/>
<path d="M480.5,389.40H484.0M480.5,294.55H484.0M480.5,199.70H484.0M480.5,104.85H484.0M480.5,10.00H484.0M484.00,389.4V392.9M647.45,389.4V392.9M810.90,389.4V392.9" stroke="#000" stroke-width="1.15" fill="none"/>
<text x="478.8" y="400.50" text-anchor="end" font-size="31.5" font-family="Liberation Serif, serif">0</text>
<text x="478.8" y="305.65" text-anchor="end" font-size="31.5" font-family="Liberation Serif, serif">20</text>
<text x="478.8" y="210.80" text-anchor="end" font-size="31.5" font-family="Liberation Serif, serif">40</text>
<text x="478.8" y="115.95" text-anchor="end" font-size="31.5" font-family="Liberation Serif, serif">60</text>
<text x="478.8" y="21.10" text-anchor="end" font-size="31.5" font-family="Liberation Serif, serif">80</text>
<text x="484.00" y="417.00" text-anchor="middle" font-size="31.5" font-family="Liberation Serif, serif">0</text>
<text x="647.45" y="417.00" text-anchor="middle" font-size="31.5" font-family="Liberation Serif, serif">20</text>
<text x="810.90" y="417.00" text-anchor="middle" font-size="31.5" font-family="Liberation Serif, serif">40</text>
<path d="M508.3,43.9H564.3" stroke="#800080" stroke-width="2" stroke-dasharray="2 3.3"/>
<text transform="translate(585.10,53.45)" font-family="Liberation Serif, serif" font-size="28" font-style="italic">g</text>
<text transform="translate(588.93,50.20) scale(1.063,0.8)" font-family="Liberation Serif, serif" font-size="28">˜</text>
<text transform="translate(601.90,56.10) scale(1.269,1.0)" font-family="Liberation Serif, serif" font-size="28">=</text>
<text transform="translate(625.10,53.82)" font-family="Liberation Serif, serif" font-size="28">0.92</text>
<path d="M508.3,82.55H564.3" stroke="#ffa500" stroke-width="2" stroke-dasharray="12.8 3.2 2 3.2"/>
<text transform="translate(585.10,91.90)" font-family="Liberation Serif, serif" font-size="28" font-style="italic">g</text>
<text transform="translate(588.93,88.65) scale(1.063,0.8)" font-family="Liberation Serif, serif" font-size="28">˜</text>
<text transform="translate(601.90,94.55) scale(1.269,1.0)" font-family="Liberation Serif, serif" font-size="28">=</text>
<text transform="translate(625.10,92.27)" font-family="Liberation Serif, serif" font-size="28">0.94</text>
<path d="M508.3,121.2H564.3" stroke="#ff0000" stroke-width="2" stroke-linecap="square"/>
<text transform="translate(585.10,130.35)" font-family="Liberation Serif, serif" font-size="28" font-style="italic">g</text>
<text transform="translate(588.93,127.10) scale(1.063,0.8)" font-family="Liberation Serif, serif" font-size="28">˜</text>
<text transform="translate(601.90,133.00) scale(1.269,1.0)" font-family="Liberation Serif, serif" font-size="28">=</text>
<text transform="translate(625.10,130.72)" font-family="Liberation Serif, serif" font-size="28">0.96</text>
<text transform="translate(776.15,33.18)" font-family="Liberation Serif, serif" font-size="23" font-weight="bold">(b)</text>
<text transform="translate(569.34,464.80) scale(1.262,1.4)" font-family="DejaVu Serif, serif" font-size="32">√</text>
<text transform="translate(598.30,457.90)" font-family="Liberation Serif, serif" font-size="32">Λ</text>
<text transform="translate(620.98,462.30)" font-family="Liberation Serif, serif" font-size="22" font-style="italic">g</text>
<text transform="translate(622.59,463.89) scale(1.244,1.091)" font-family="Liberation Serif, serif" font-size="22">˜</text>
<text transform="translate(636.18,457.72)" font-family="Liberation Serif, serif" font-size="32">Ω</text>
<text transform="translate(658.35,457.62)" font-family="Liberation Serif, serif" font-size="32" font-style="italic">t</text>
<text transform="translate(665.78,458.38)" font-family="Liberation Serif, serif" font-size="32">/</text>
<text transform="translate(675.55,456.88)" font-family="Liberation Serif, serif" font-size="32">(</text>
<text transform="translate(686.52,457.98)" font-family="Liberation Serif, serif" font-size="32">2</text>
<text transform="translate(701.05,458.25)" font-family="Liberation Serif, serif" font-size="32" font-style="italic">π</text>
<text transform="translate(717.48,456.88)" font-family="Liberation Serif, serif" font-size="32">)</text>
<path d="M593.50,428.6H636.80" stroke="#000" stroke-width="1.7"/>
<g transform="translate(435.6,254.4) rotate(-90) translate(-100,-200)">
<text transform="translate(99.78,199.80) scale(0.87,0.995)" font-family="STIX Two Math, DejaVu Sans, sans-serif" font-size="30" style="stroke-width:0.9px">ℱ</text>
<text transform="translate(118.02,204.20)" font-family="Liberation Serif, serif" font-size="22" font-style="italic">g</text>
<text transform="translate(121.73,206.13) scale(1.096,1.127)" font-family="Liberation Serif, serif" font-size="22">˜</text>
<text transform="translate(130.85,199.72)" font-family="Liberation Serif, serif" font-size="32">(</text>
<text transform="translate(140.20,201.48)" font-family="Liberation Serif, serif" font-size="32" font-style="italic">t</text>
<text transform="translate(148.38,199.72)" font-family="Liberation Serif, serif" font-size="32">)</text>
<text transform="translate(159.57,200.58)" font-family="Liberation Serif, serif" font-size="32">/</text>
<text transform="translate(167.62,200.20)" font-family="Liberation Serif, serif" font-size="32">1</text>
<text transform="translate(182.90,200.50)" font-family="Liberation Serif, serif" font-size="32">0</text>
<text transform="translate(198.38,190.08)" font-family="Liberation Serif, serif" font-size="22">4</text>
</g>
</svg>
</body></html>
